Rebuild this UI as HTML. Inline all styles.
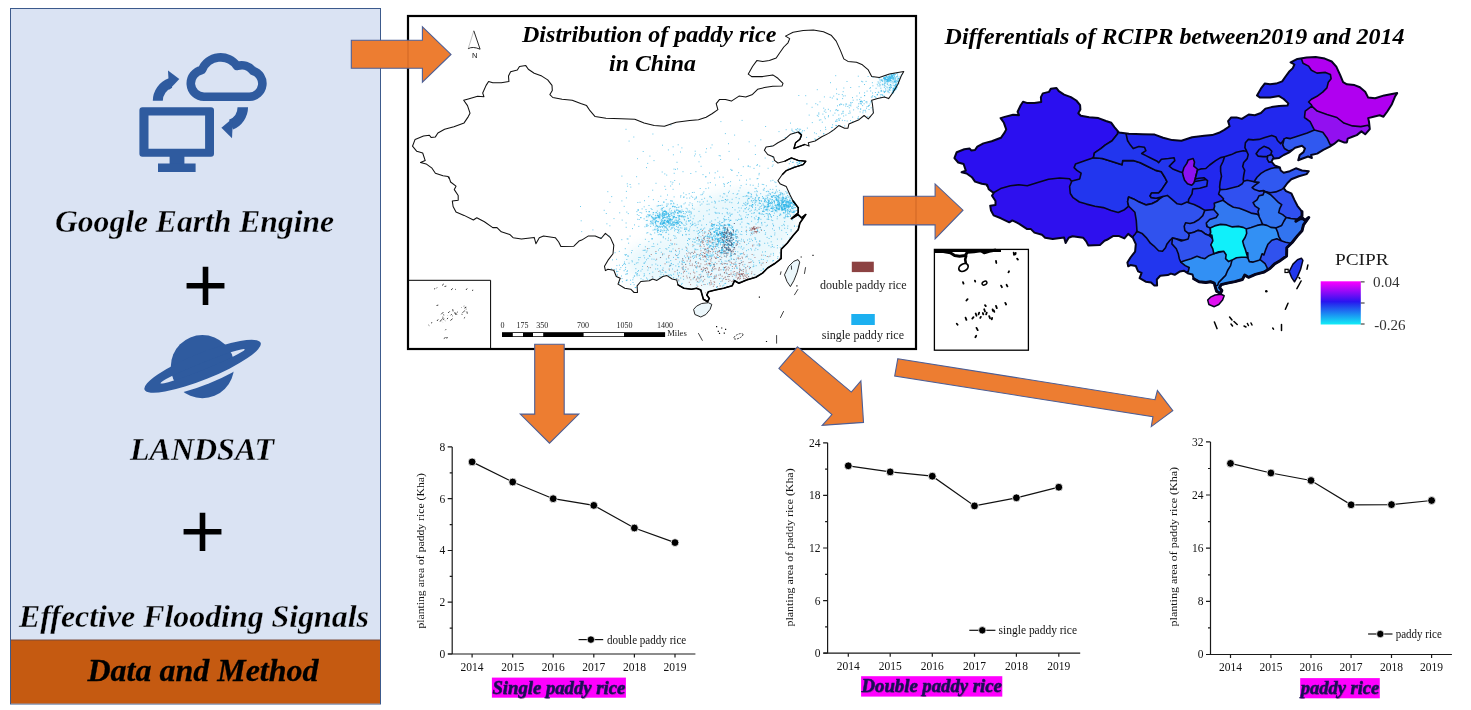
<!DOCTYPE html>
<html lang="en">
<head>
<meta charset="utf-8">
<title>Graphical abstract: paddy rice in China</title>
<style>
html,body{margin:0;padding:0;background:#fff;}
body{width:1471px;height:710px;overflow:hidden;position:relative;font-family:"Liberation Serif","DejaVu Serif",serif;}
svg{position:absolute;left:0;top:0;display:block;}
text{font-family:"Liberation Serif","DejaVu Serif",serif;}
.bi{font-style:italic;font-weight:700;}
.it{font-style:italic;}
.ax{stroke:#1a1a1a;stroke-width:1.2;fill:none;}
.tk{font-size:11.5px;fill:#111;}
.arrow{fill:#ED7D31;stroke:#4d5f96;stroke-width:1.1;stroke-linejoin:miter;}
</style>
</head>
<body>
<svg width="1471" height="710" viewBox="0 0 1471 710">
<!-- left panel -->
<g id="panel">
<rect x="10.5" y="8.5" width="370" height="695.5" fill="#dae3f3" stroke="#3c5a8c" stroke-width="1"/>
<rect x="11" y="640" width="369" height="63.5" fill="#c55a11"/>
<line x1="11" y1="640" x2="380" y2="640" stroke="#7a4a3a" stroke-width="1"/>
<!-- monitor + cloud icon -->
<g fill="#2f5b9f" stroke="none">
<path fill-rule="evenodd" d="M142.4 107.2h68.6a3 3 0 0 1 3 3v43.6a3 3 0 0 1-3 3h-68.6a3 3 0 0 1-3-3v-43.6a3 3 0 0 1 3-3zM148.5 115.6v33.2h56.6v-33.2z"/>
<rect x="169.6" y="156" width="14.8" height="8"/>
<rect x="158" y="163.5" width="37.6" height="8.5"/>
</g>
<path id="cloud" d="M204 96.8 H249.5 A13.3 13.3 0 0 0 253 70.8 A14.5 14.5 0 0 0 237 66 A20 20 0 0 0 202 70 A13.5 13.5 0 0 0 204 96.8 Z" fill="none" stroke="#2f5b9f" stroke-width="8.6" stroke-linejoin="round"/>
<!-- curved arrows -->
<path d="M157.8 100.8 A19.2 19.2 0 0 1 170.5 83" fill="none" stroke="#2f5b9f" stroke-width="10"/>
<path d="M168 70.6 L179.3 79 L169.2 89.8 Z" fill="#2f5b9f"/>
<path d="M242.8 107.2 A19 19 0 0 1 231 124.6" fill="none" stroke="#2f5b9f" stroke-width="10.5"/>
<path d="M233 118 L221.4 127.8 L232 138.3 Z" fill="#2f5b9f"/>
<text x="194.5" y="231.5" text-anchor="middle" class="bi" font-size="32" textLength="279" lengthAdjust="spacingAndGlyphs" fill="#000" stroke="#dae3f3" stroke-width="0.3">Google Earth Engine</text>
<text x="205.5" y="312" text-anchor="middle" font-size="78" style="font-family:'Liberation Sans',sans-serif" fill="#000">+</text>
<!-- planet -->
<defs>
<clipPath id="frontHalf"><rect x="-80" y="6" width="160" height="40"/></clipPath>
<clipPath id="ringHole"><ellipse cx="0" cy="0" rx="45.4" ry="3.4"/></clipPath>
</defs>
<circle cx="202.4" cy="366.6" r="31.6" fill="#2f5b9f"/>
<g transform="translate(202.6 366.3) rotate(-22)">
<ellipse cx="0" cy="0" rx="64.5" ry="18.3" fill="#dae3f3" clip-path="url(#frontHalf)"/>
<path fill-rule="evenodd" fill="#2f5b9f" d="M-62.6 0A62.6 13.2 0 1 0 62.6 0A62.6 13.2 0 1 0 -62.6 0ZM-45.4 0A45.4 3.4 0 1 0 45.4 0A45.4 3.4 0 1 0 -45.4 0Z"/>
<circle cx="0" cy="0.3" r="31.6" fill="#2f5b9f" clip-path="url(#ringHole)"/>
</g>
<text x="202" y="460" text-anchor="middle" class="bi" font-size="32" textLength="144" lengthAdjust="spacingAndGlyphs" fill="#000" stroke="#dae3f3" stroke-width="0.3">LANDSAT</text>
<text x="202.5" y="558" text-anchor="middle" font-size="78" style="font-family:'Liberation Sans',sans-serif" fill="#000">+</text>
<text x="194" y="626.5" text-anchor="middle" class="bi" font-size="32" textLength="350" lengthAdjust="spacingAndGlyphs" fill="#000" stroke="#dae3f3" stroke-width="0.3">Effective Flooding Signals</text>
<text x="203" y="681.2" text-anchor="middle" class="bi" font-size="32" textLength="231" lengthAdjust="spacingAndGlyphs" fill="#000" stroke="#000" stroke-width="0.3">Data and Method</text>
</g>
<!-- map 1 -->
<g id="map1">
<rect x="408" y="16" width="508" height="333" fill="#fff" stroke="#000" stroke-width="2.2"/>
<defs><clipPath id="chinaclip"><path d="M448.9 178.3L448.0 176.6L443.0 175.8L435.4 173.2L432.0 168.2L426.1 163.9L420.5 162.6L425.2 160.6L422.7 153.0L416.8 151.3L412.5 146.2L415.1 139.4L423.5 136.1L429.4 135.2L431.1 137.4L435.4 136.9L437.9 133.0L444.6 129.3L453.9 126.8L464.1 122.9L468.3 116.6L470.0 113.2L467.5 105.6L463.7 100.2L468.3 98.9L477.6 96.3L484.0 96.8L482.7 93.0L486.1 85.4L488.6 81.5L492.8 82.8L501.3 82.8L508.9 81.6L508.5 76.1L510.6 71.8L517.3 70.1L519.5 66.4L525.8 65.6L528.3 69.3L534.2 73.2L541.8 76.1L547.7 79.9L552.0 85.4L552.3 90.4L549.9 94.6L552.8 97.5L562.1 99.2L572.2 100.2L580.7 103.6L586.6 105.6L590.0 110.7L595.1 116.6L606.0 118.3L621.3 118.8L634.8 119.2L644.1 122.9L654.2 125.6L664.4 126.2L676.2 122.2L689.7 120.5L698.5 119.7L706.1 117.2L712.0 113.8L717.9 109.6L716.2 103.7L719.6 99.4L725.5 99.4L731.4 101.1L739.0 96.1L745.8 96.9L752.5 94.4L757.6 89.3L764.4 87.6L772.8 86.2L782.1 85.9L783.0 83.4L777.9 78.3L772.8 74.9L762.7 76.6L751.7 76.6L748.3 74.1L752.5 66.5L756.8 60.6L762.7 61.4L769.4 60.6L776.2 58.0L779.6 53.0L783.8 47.0L788.0 42.8L789.7 38.6L785.5 36.1L793.1 32.2L803.2 30.5L813.4 30.1L823.5 31.8L831.1 35.2L836.2 41.1L840.4 50.4L843.8 58.9L848.0 61.4L856.5 62.3L862.4 64.8L868.3 69.9L871.7 76.6L879.3 77.5L889.4 74.1L897.9 72.4L903.8 71.5L901.3 75.8L897.9 84.2L892.8 92.7L888.6 98.6L884.4 96.9L877.6 98.6L871.7 100.3L872.5 104.5L873.4 113.0L868.3 118.9L864.1 115.5L859.0 119.7L854.8 121.4L848.9 123.9L848.0 128.2L844.6 128.2L838.7 125.6L833.7 129.9L828.6 133.4L821.8 136.8L815.1 141.0L808.3 142.7L809.1 146.1L804.9 144.4L798.2 146.9L793.9 148.6L795.6 142.7L799.9 139.3L801.5 135.1L798.2 132.0L790.6 134.2L784.6 139.3L777.9 142.7L772.8 146.1L766.1 146.9L764.4 150.3L767.7 154.5L773.7 157.0L774.5 160.4L777.9 163.0L784.6 161.3L791.4 157.9L798.2 160.4L805.8 161.3L803.2 164.6L794.8 167.2L786.3 170.6L782.1 174.8L777.9 180.7L780.4 184.1L786.3 186.6L789.7 194.2L793.1 201.0L798.2 207.7L798.2 212.8L791.4 218.7L798.2 214.5L801.5 217.9L805.8 214.5L799.9 223.0L798.2 229.7L793.1 235.6L787.2 243.2L781.3 249.1L781.1 258.7L774.4 263.8L767.6 268.0L762.5 273.1L755.8 277.3L746.5 279.9L738.9 283.2L734.6 280.7L732.1 285.8L723.7 288.3L715.2 290.0L708.4 291.7L706.8 295.1L709.3 298.4L707.6 301.8L703.4 299.3L701.7 293.4L700.8 290.0L696.6 288.3L691.5 289.2L683.9 288.3L678.0 284.9L676.7 279.9L672.1 279.0L667.0 275.6L662.8 276.5L656.9 280.4L652.7 279.0L649.3 280.7L640.8 281.5L637.1 285.8L637.5 292.5L634.1 292.5L630.7 289.2L624.8 288.3L618.0 284.1L620.2 278.2L616.3 276.5L613.8 270.2L607.9 269.2L605.4 270.6L604.5 266.3L607.9 260.4L613.0 253.7L613.8 245.2L610.4 237.6L605.4 233.4L601.1 238.5L595.2 235.9L588.5 235.9L581.7 240.1L579.0 241.1L573.9 246.2L560.9 246.5L558.7 242.0L555.3 237.7L543.5 236.1L539.3 237.7L535.9 243.7L534.2 237.4L521.5 239.1L513.1 237.7L509.7 234.4L501.3 231.8L497.0 227.6L492.8 227.6L484.4 221.7L476.8 217.8L473.4 220.0L464.1 215.4L456.0 212.1L453.1 206.5L452.3 200.9L458.2 200.2L458.2 195.5L454.3 189.6L456.0 186.2L450.6 182.0L448.9 176.9Z"/></clipPath><filter id="blur3" x="-20%" y="-20%" width="140%" height="140%"><feGaussianBlur stdDeviation="6"/></filter></defs>
<g clip-path="url(#chinaclip)"><g filter="url(#blur3)" fill="#bfeaf7" opacity="0.33"><ellipse cx="700" cy="262" rx="75" ry="28"/><ellipse cx="740" cy="225" rx="55" ry="35"/><ellipse cx="668" cy="219" rx="20" ry="14"/><ellipse cx="780" cy="203" rx="18" ry="12"/><ellipse cx="892" cy="82" rx="12" ry="9"/></g></g>
<path d="M715.9 244.4h1.0M717.6 213.0h1.0M678.8 216.9h1.0M787.0 234.5h1.0M751.7 232.0h1.0M638.4 257.5h1.0M757.9 244.0h1.0M637.0 158.7h1.0M681.1 207.2h1.0M746.8 223.3h1.0M758.7 200.6h1.0M747.0 240.0h1.0M760.6 270.5h1.0M695.9 196.9h1.0M711.1 221.0h1.0M764.8 234.4h1.0M705.4 188.6h1.0M701.4 271.4h1.0M685.6 234.3h1.0M753.5 168.4h1.0M732.7 274.6h1.0M619.2 212.8h1.0M724.2 193.9h1.0M757.4 222.6h1.0M649.4 256.5h1.0M766.8 260.9h1.0M736.6 175.6h1.0M763.8 201.8h1.0M705.1 176.9h1.0M676.8 204.8h1.0M649.8 234.1h1.0M625.5 129.3h1.0M749.7 197.0h1.0M668.4 262.1h1.0M790.6 231.0h1.0M743.5 241.5h1.0M758.5 245.8h1.0M643.7 273.7h1.0M782.5 245.1h1.0M621.4 200.9h1.0M719.9 263.7h1.0M760.4 219.3h1.0M747.9 249.7h1.0M736.6 268.5h1.0M693.6 209.2h1.0M787.3 226.0h1.0M681.6 261.0h1.0M654.1 219.9h1.0M721.8 213.7h1.0M686.7 249.0h1.0M749.0 230.4h1.0M738.4 246.9h1.0M720.3 235.5h1.0M761.5 225.0h1.0M772.0 246.5h1.0M706.5 210.8h1.0M729.3 260.1h1.0M711.5 239.7h1.0M831.1 127.5h1.0M668.2 234.3h1.0M751.9 234.1h1.0M706.3 249.9h1.0M745.5 205.2h1.0M699.5 221.2h1.0M717.6 222.6h1.0M580.0 206.5h1.0M726.3 261.2h1.0M636.4 211.6h1.0M711.2 248.7h1.0M790.0 123.1h1.0M767.6 168.3h1.0M739.7 270.4h1.0M721.8 232.3h1.0M773.8 230.4h1.0M725.1 283.3h1.0M787.7 213.8h1.0M780.3 214.9h1.0M737.3 251.8h1.0M742.2 249.3h1.0M646.0 167.6h1.0M763.8 188.4h1.0M673.5 169.1h1.0M730.1 181.7h1.0M681.0 284.3h1.0M784.3 218.2h1.0M621.5 278.5h1.0M724.7 202.1h1.0M752.0 240.6h1.0M689.1 263.7h1.0M736.3 229.7h1.0M603.7 210.3h1.0M628.0 256.1h1.0M747.4 201.8h1.0M729.5 256.6h1.0M734.3 275.4h1.0M726.6 264.5h1.0M693.0 258.4h1.0M626.8 183.8h1.0M622.0 265.6h1.0M662.2 224.5h1.0M719.4 223.9h1.0M697.5 233.9h1.0M759.2 263.0h1.0M719.1 177.1h1.0M699.5 265.8h1.0M639.5 202.3h1.0M730.4 255.6h1.0M739.1 180.2h1.0M644.0 200.7h1.0M780.8 203.5h1.0M680.4 195.7h1.0M645.8 220.5h1.0M665.1 238.8h1.0M600.2 237.5h1.0M694.7 151.2h1.0M769.9 214.5h1.0M607.3 191.7h1.0M746.0 207.6h1.0M772.9 253.4h1.0M766.6 237.4h1.0M754.8 145.8h1.0M713.7 207.2h1.0M679.0 251.2h1.0M760.9 259.3h1.0M680.2 221.6h1.0M746.1 256.4h1.0M728.1 217.6h1.0M674.1 211.4h1.0M779.0 228.9h1.0M683.1 193.0h1.0M765.1 126.5h1.0M764.2 243.3h1.0M726.3 244.9h1.0M623.1 264.3h1.0M747.9 198.3h1.0M652.9 199.7h1.0M746.0 232.0h1.0M708.1 188.0h1.0M664.3 173.9h1.0M682.0 234.9h1.0M611.2 196.6h1.0M726.8 244.9h1.0M690.0 220.3h1.0M755.2 239.3h1.0M765.1 232.9h1.0M712.2 255.0h1.0M732.7 193.6h1.0M695.6 225.0h1.0M724.0 231.0h1.0M730.0 231.7h1.0M722.6 177.2h1.0M753.2 265.0h1.0M753.9 217.8h1.0M754.6 188.3h1.0M625.7 227.3h1.0M678.8 253.1h1.0M670.4 125.1h1.0M709.0 173.0h1.0M688.0 244.8h1.0M757.3 231.7h1.0M728.8 247.7h1.0M721.8 252.7h1.0M713.7 265.6h1.0M762.8 259.5h1.0M798.2 216.8h1.0M711.1 258.2h1.0M783.9 225.3h1.0M665.8 232.1h1.0M749.8 267.9h1.0M773.1 225.9h1.0M776.9 245.5h1.0M741.3 227.1h1.0M716.6 251.1h1.0M672.0 201.1h1.0M730.3 169.4h1.0M706.0 148.7h1.0M692.4 246.6h1.0M761.2 222.9h1.0M717.2 171.2h1.0M719.8 155.9h1.0M772.9 260.5h1.0M625.6 223.0h1.0M764.7 158.0h1.0M629.6 184.5h1.0M695.4 171.7h1.0M731.7 234.5h1.0M764.9 251.7h1.0M657.8 205.8h1.0M671.7 184.1h1.0M725.5 225.2h1.0M757.0 164.7h1.0M661.9 224.1h1.0M719.0 213.2h1.0M726.5 196.1h1.0M768.6 238.5h1.0M725.2 199.5h1.0M720.4 121.6h1.0M676.0 226.4h1.0M647.3 232.6h1.0M738.1 172.7h1.0M716.2 213.1h1.0M755.3 248.3h1.0M728.0 192.7h1.0M722.1 222.5h1.0M770.4 236.2h1.0M690.3 173.5h1.0M709.5 196.9h1.0M668.8 220.6h1.0M703.0 229.0h1.0M758.8 209.3h1.0M790.6 229.6h1.0M688.7 234.4h1.0M747.7 273.6h1.0M772.2 261.0h1.0M758.1 219.1h1.0M758.0 184.0h1.0M717.7 225.7h1.0M794.0 226.0h1.0M685.6 234.8h1.0M762.0 252.0h1.0M744.8 208.7h1.0M767.1 206.8h1.0M691.8 252.3h1.0M692.7 255.8h1.0M727.3 236.8h1.0M730.2 254.9h1.0M694.4 223.3h1.0M647.2 163.4h1.0M794.7 207.5h1.0M726.7 213.1h1.0M723.3 183.6h1.0M731.3 170.4h1.0M726.1 236.7h1.0M755.7 216.2h1.0M680.3 231.1h1.0M703.3 284.5h1.0M772.2 220.6h1.0M704.1 198.3h1.0M678.5 211.6h1.0M746.2 244.6h1.0M691.2 225.5h1.0M701.3 231.4h1.0M738.5 240.5h1.0M716.9 238.9h1.0M732.9 254.3h1.0M625.9 191.4h1.0M729.9 185.8h1.0M672.5 248.9h1.0M694.3 249.1h1.0M771.0 236.6h1.0M757.9 221.0h1.0M652.5 223.9h1.0M755.0 204.9h1.0M724.5 253.5h1.0M681.7 249.3h1.0M738.1 219.3h1.0M779.4 198.8h1.0M729.1 224.6h1.0M632.3 279.8h1.0M770.9 220.0h1.0M754.7 238.9h1.0M647.6 216.9h1.0M673.7 173.3h1.0M662.8 237.7h1.0M701.4 199.4h1.0M759.1 245.8h1.0M674.2 180.5h1.0M746.0 234.4h1.0M658.1 217.3h1.0M700.2 242.5h1.0M723.6 221.7h1.0M710.6 265.0h1.0M776.5 196.2h1.0M734.0 253.5h1.0M725.9 232.5h1.0M647.6 225.6h1.0M692.8 239.1h1.0M667.9 149.9h1.0M732.1 234.9h1.0M699.8 258.8h1.0M715.0 202.0h1.0M756.3 165.4h1.0M692.7 224.2h1.0M776.7 218.8h1.0M747.0 200.1h1.0M694.6 225.7h1.0M739.5 263.9h1.0M662.0 145.2h1.0M763.3 255.2h1.0M741.3 234.6h1.0M781.1 239.0h1.0M774.7 210.8h1.0M729.7 215.3h1.0M702.5 193.2h1.0M695.3 249.3h1.0M732.0 227.5h1.0M720.5 259.7h1.0M757.2 219.6h1.0M766.6 219.2h1.0M755.6 188.6h1.0M789.3 238.1h1.0M748.3 258.9h1.0M740.9 219.3h1.0M644.9 261.9h1.0M731.7 214.1h1.0M749.3 228.0h1.0M767.2 210.9h1.0M728.0 143.7h1.0M706.7 250.7h1.0M723.3 285.2h1.0M712.1 252.9h1.0M741.4 222.1h1.0M736.3 267.9h1.0M698.4 243.9h1.0M672.0 243.9h1.0M761.5 214.5h1.0M759.2 166.1h1.0M771.8 166.3h1.0M691.7 203.9h1.0M707.9 257.6h1.0M734.5 209.9h1.0M730.3 238.9h1.0M727.8 240.9h1.0M715.0 185.0h1.0M735.7 264.3h1.0M670.1 186.0h1.0M728.6 151.4h1.0M715.7 208.4h1.0M754.8 198.3h1.0M681.5 210.0h1.0M727.3 199.7h1.0M730.7 253.5h1.0M686.9 209.0h1.0M690.1 223.7h1.0M758.7 173.4h1.0M755.5 224.0h1.0M629.6 236.1h1.0M774.4 233.0h1.0M756.1 241.8h1.0M778.0 209.4h1.0M770.0 194.1h1.0M754.5 219.0h1.0M667.0 195.0h1.0M740.7 260.7h1.0M753.4 244.9h1.0M727.7 276.4h1.0M708.5 204.1h1.0M778.8 227.4h1.0M714.7 203.1h1.0M715.9 248.7h1.0M749.5 179.0h1.0M753.4 231.8h1.0M675.0 254.4h1.0M714.6 212.3h1.0M692.1 241.7h1.0M702.8 270.4h1.0M694.4 255.8h1.0M706.1 244.0h1.0M724.9 199.6h1.0M639.6 257.5h1.0M635.3 268.7h1.0M698.2 230.5h1.0M653.5 160.6h1.0M685.1 257.7h1.0M757.3 249.6h1.0M605.8 213.5h1.0M779.5 252.9h1.0M778.5 131.6h1.0M739.3 243.7h1.0M711.9 226.4h1.0M778.7 208.2h1.0M744.7 205.0h1.0M738.7 198.7h1.0M642.1 266.5h1.0M746.7 203.8h1.0M741.1 262.6h1.0M676.2 220.8h1.0M759.7 245.0h1.0M711.6 144.9h1.0M730.7 214.4h1.0M744.5 208.8h1.0M673.6 196.9h1.0M697.2 201.7h1.0M666.3 249.2h1.0M658.0 250.1h1.0M674.2 238.4h1.0M689.8 226.8h1.0M738.1 159.1h1.0M696.6 231.2h1.0M704.2 228.0h1.0M770.4 254.1h1.0M779.8 247.4h1.0M714.2 224.3h1.0M715.1 213.1h1.0M720.1 159.5h1.0M711.7 224.1h1.0M676.4 224.1h1.0M758.4 218.8h1.0M844.2 126.0h1.0M718.7 155.6h1.0M592.4 229.9h1.0M758.5 213.5h1.0M760.3 139.8h1.0M776.9 239.1h1.0M731.3 202.7h1.0M765.1 206.6h1.0M742.3 205.6h1.0M606.4 223.8h1.0M741.1 253.7h1.0M681.8 223.7h1.0M763.9 230.5h1.0M680.0 152.0h1.0M780.7 255.9h1.0M696.0 197.9h1.0M778.9 190.4h1.0M630.3 187.1h1.0M692.2 197.3h1.0M742.7 196.5h1.0M670.3 274.7h1.0M697.9 233.4h1.0M729.3 213.1h1.0M747.9 198.7h1.0M628.6 141.1h1.0M660.3 196.2h1.0M728.7 227.1h1.0M760.6 229.6h1.0M686.4 198.1h1.0M613.5 218.6h1.0M756.7 245.1h1.0M723.3 218.4h1.0M781.5 225.6h1.0M770.6 247.1h1.0M741.7 274.6h1.0M698.5 211.4h1.0M685.6 194.7h1.0M731.3 246.6h1.0M694.8 242.2h1.0M682.8 211.5h1.0M693.7 192.4h1.0M696.3 240.6h1.0M758.4 217.4h1.0M753.5 274.4h1.0M651.3 222.6h1.0M743.2 203.3h1.0M713.1 254.9h1.0M747.9 166.0h1.0M728.1 182.5h1.0M726.9 183.3h1.0M733.9 242.7h1.0M731.7 235.6h1.0M683.1 279.3h1.0M694.1 155.9h1.0M719.7 196.0h1.0M674.5 211.5h1.0M746.0 180.1h1.0M722.4 279.2h1.0M767.6 219.2h1.0M737.0 220.4h1.0M727.4 252.8h1.0M724.9 133.6h1.0M728.8 191.2h1.0M765.8 201.8h1.0M672.4 182.3h1.0M652.4 134.0h1.0M626.7 238.9h1.0M694.9 154.0h1.0M648.5 248.5h1.0M687.4 211.1h1.0M748.2 276.5h1.0M737.9 232.0h1.0M712.9 242.4h1.0M745.8 227.0h1.0M702.5 174.6h1.0M700.6 166.3h1.0M759.2 241.1h1.0M741.1 231.5h1.0M787.9 168.2h1.0M661.7 172.0h1.0M699.3 202.0h1.0M750.2 235.1h1.0M731.7 199.3h1.0M705.7 261.2h1.0M772.0 228.8h1.0M712.3 284.0h1.0M697.3 249.6h1.0M793.4 214.9h1.0M775.4 182.6h1.0M785.7 232.6h1.0M642.7 250.4h1.0M680.9 273.7h1.0M692.7 218.7h1.0M745.6 212.4h1.0M744.3 204.0h1.0M767.0 225.2h1.0M741.6 120.4h1.0M793.9 226.2h1.0M632.0 228.6h1.0M755.7 265.7h1.0M722.0 250.8h1.0M709.8 182.6h1.0M698.5 161.8h1.0M694.2 199.3h1.0M685.2 247.1h1.0M748.0 214.7h1.0M739.5 219.5h1.0M741.7 253.6h1.0M782.8 198.9h1.0M647.1 279.2h1.0M736.3 267.0h1.0M639.6 212.5h1.0M731.5 170.2h1.0M701.6 252.5h1.0M682.5 171.7h1.0M758.6 260.7h1.0M740.6 175.5h1.0M773.0 255.1h1.0M760.4 206.5h1.0M746.7 255.0h1.0M699.3 154.9h1.0M748.1 243.3h1.0M730.7 258.8h1.0M697.7 221.9h1.0M713.2 246.7h1.0M773.5 247.3h1.0M723.8 184.6h1.0M756.0 276.1h1.0M759.3 241.1h1.0M719.0 231.4h1.0M651.6 264.9h1.0M707.5 183.0h1.0M688.7 193.7h1.0M655.3 260.2h1.0M778.8 203.0h1.0M648.2 196.7h1.0M695.1 238.0h1.0M710.3 147.9h1.0M742.8 166.7h1.0M691.9 192.5h1.0M700.2 274.3h1.0M776.9 247.9h1.0M747.6 166.2h1.0M701.4 204.0h1.0M676.2 244.3h1.0M689.2 198.0h1.0M672.6 146.8h1.0M739.6 187.9h1.0M581.2 231.6h1.0M792.0 208.2h1.0M645.5 209.6h1.0M651.7 220.8h1.0M761.8 184.4h1.0M616.9 274.3h1.0M657.2 265.3h1.0M718.4 235.2h1.0M721.5 262.9h1.0M787.1 228.3h1.0M655.3 253.2h1.0M704.2 248.9h1.0M792.6 207.9h1.0M700.4 241.5h1.0M758.5 174.8h1.0M660.6 234.4h1.0M682.6 268.2h1.0M772.4 161.5h1.0M685.0 231.3h1.0M702.9 219.1h1.0M755.9 194.2h1.0M755.7 200.8h1.0M700.0 245.4h1.0M698.5 235.9h1.0M722.0 252.9h1.0M709.9 266.1h1.0M659.4 248.5h1.0M701.8 194.6h1.0M723.6 220.1h1.0M706.8 201.1h1.0M754.5 237.6h1.0M712.0 243.0h1.0M655.5 183.3h1.0M672.9 154.8h1.0M754.9 154.5h1.0M641.2 213.0h1.0M624.5 254.6h1.0M689.4 214.9h1.0M733.0 245.7h1.0M710.9 225.6h1.0M699.9 229.4h1.0M665.5 227.4h1.0M623.7 206.4h1.0M660.7 234.8h1.0M676.5 162.3h1.0M689.5 253.0h1.0M751.1 221.3h1.0M679.0 184.0h1.0M677.7 144.8h1.0M666.8 222.1h1.0M741.6 219.0h1.0M714.7 172.8h1.0M688.4 257.1h1.0M636.8 214.6h1.0M744.4 264.4h1.0M668.3 247.6h1.0M751.2 197.0h1.0M756.2 190.9h1.0M686.2 224.3h1.0M580.7 220.8h1.0M675.0 169.4h1.0M706.6 254.0h1.0M707.8 273.1h1.0M666.2 175.1h1.0M782.0 193.6h1.0M774.2 234.9h1.0M765.7 226.0h1.0M677.0 168.9h1.0M672.6 189.3h1.0M705.5 176.7h1.0M714.0 201.2h1.0M699.7 188.5h1.0M732.0 207.5h1.0M736.3 234.5h1.0M748.7 141.8h1.0M700.5 194.8h1.0M772.6 165.0h1.0M690.7 213.8h1.0M711.5 262.7h1.0M705.7 261.7h1.0M649.4 156.1h1.0M756.8 229.7h1.0M756.6 178.8h1.0M782.2 204.8h1.0M784.2 228.3h1.0M621.4 176.1h1.0M792.0 219.8h1.0M708.2 234.2h1.0M706.6 204.3h1.0M735.6 230.5h1.0M737.2 230.2h1.0M722.2 197.2h1.0M726.3 200.6h1.0M705.4 152.2h1.0M727.1 209.2h1.0M670.3 181.8h1.0M728.3 219.4h1.0M739.2 210.9h1.0M696.7 282.0h1.0M710.8 226.1h1.0M681.6 261.8h1.0M653.4 246.5h1.0M678.3 266.4h1.0M690.8 196.2h1.0M657.2 268.9h1.0M688.2 212.1h1.0M700.2 156.8h1.0M693.0 270.1h1.0M692.0 205.6h1.0M626.3 259.5h1.0M670.3 265.4h1.0M636.1 176.7h1.0M745.9 196.0h1.0M773.0 225.3h1.0M665.4 248.6h1.0M690.4 211.7h1.0M681.4 147.9h1.0M716.7 238.1h1.0M637.3 202.5h1.0M766.5 213.5h1.0M665.2 189.4h1.0M693.5 230.6h1.0M745.8 184.3h1.0M735.6 197.6h1.0M627.1 186.2h1.0M780.1 194.5h1.0M657.4 232.4h1.0M743.4 248.0h1.0M683.8 262.2h1.0M675.7 251.4h1.0M739.8 234.2h1.0M783.2 224.3h1.0M737.5 203.5h1.0M688.6 205.0h1.0M718.9 224.1h1.0M772.3 192.3h1.0M690.9 212.9h1.0M740.6 185.6h1.0M729.6 235.6h1.0M740.5 247.9h1.0M745.4 231.2h1.0M625.9 197.9h1.0M746.9 217.6h1.0M684.8 202.9h1.0M726.8 273.9h1.0M642.7 151.5h1.0M703.4 191.8h1.0M699.2 232.1h1.0M732.7 235.5h1.0M728.1 260.4h1.0M738.9 214.9h1.0M749.6 166.8h1.0M633.3 137.0h1.0M758.9 232.3h1.0M734.1 135.1h1.0M709.5 196.3h1.0M652.2 190.2h1.0M768.4 245.7h1.0M728.8 244.5h1.0M696.8 227.7h1.0M732.2 246.1h1.0M726.2 219.6h1.0M722.6 200.5h1.0M768.2 256.8h1.0M772.4 180.3h1.0M682.1 235.2h1.0M757.8 186.2h1.0M708.8 209.8h1.0M733.3 237.8h1.0M714.2 178.0h1.0M724.2 263.9h1.0M754.4 250.1h1.0M756.5 196.0h1.0M761.6 263.4h1.0M711.4 202.2h1.0M685.3 229.4h1.0M728.2 250.5h1.0M767.2 243.1h1.0M745.0 217.1h1.0M723.2 193.7h1.0M739.8 224.1h1.0M747.6 192.5h1.0M732.2 226.8h1.0M763.2 184.6h1.0M753.1 262.4h1.0M762.8 211.0h1.0M703.0 216.0h1.0M721.3 200.6h1.0M750.7 232.8h1.0M680.1 197.0h1.0M724.4 250.5h1.0M664.4 186.3h1.0M757.4 178.5h1.0M736.0 238.4h1.0M723.9 186.3h1.0M726.7 212.4h1.0M748.5 193.1h1.0M790.0 161.3h1.0M720.3 225.3h1.0M782.9 201.9h1.0M760.0 203.5h1.0M707.9 241.8h1.0M679.0 262.0h1.0M796.6 226.3h1.0M667.6 240.3h1.0M692.6 279.0h1.0M662.6 268.0h1.0M791.6 212.4h1.0M662.6 221.1h1.0M719.1 223.2h1.0M768.3 219.5h1.0M740.6 241.1h1.0M754.3 228.2h1.0M718.6 201.2h1.0M670.7 203.6h1.0M722.5 208.1h1.0M757.1 230.5h1.0M665.2 226.8h1.0M724.8 244.1h1.0M705.2 236.5h1.0M638.4 183.8h1.0M729.3 202.2h1.0M686.0 250.5h1.0M765.9 185.8h1.0M626.2 280.2h1.0M738.4 190.9h1.0M733.0 259.3h1.0M770.7 145.9h1.0M772.4 157.4h1.0M730.3 264.8h1.0M694.8 198.2h1.0M709.5 222.2h1.0M670.5 243.4h1.0M759.9 227.7h1.0M740.9 218.3h1.0M702.8 201.8h1.0M710.9 197.6h1.0M609.4 202.3h1.0M699.8 205.1h1.0M671.8 219.8h1.0M773.1 215.5h1.0M702.9 276.6h1.0M793.6 212.6h1.0M722.9 267.3h1.0M699.5 220.5h1.0M750.8 239.2h1.0M714.8 262.4h1.0M720.2 252.6h1.0M770.3 180.9h1.0M657.9 201.5h1.0M662.8 236.7h1.0M683.0 197.2h1.0M714.8 251.3h1.0M741.7 269.8h1.0M656.2 226.1h1.0M679.2 219.6h1.0M673.7 214.5h1.0M654.9 215.8h1.0M660.3 242.1h1.0M662.2 232.2h1.0M670.4 221.5h1.0M676.9 212.8h1.0M679.0 222.0h1.0M649.8 223.8h1.0M674.6 222.6h1.0M687.0 215.7h1.0M674.1 225.0h1.0M657.2 228.6h1.0M650.6 208.6h1.0M674.3 210.3h1.0M666.6 205.8h1.0M668.8 209.9h1.0M672.1 206.7h1.0M673.4 216.9h1.0M668.8 218.5h1.0M669.6 208.4h1.0M637.2 219.3h1.0M656.8 215.4h1.0M673.1 203.1h1.0M658.8 214.1h1.0M655.3 221.6h1.0M666.3 212.4h1.0M656.2 225.5h1.0M660.1 223.7h1.0M673.4 203.8h1.0M655.0 219.0h1.0M672.1 225.2h1.0M677.6 227.3h1.0M663.5 217.3h1.0M677.3 215.6h1.0M680.7 206.3h1.0M675.8 217.6h1.0M644.4 226.8h1.0M671.7 219.2h1.0M655.1 215.3h1.0M686.1 212.4h1.0M626.3 212.1h1.0M653.6 217.9h1.0M663.3 211.7h1.0M657.9 227.4h1.0M650.7 234.7h1.0M661.5 210.3h1.0M677.4 223.5h1.0M655.5 225.0h1.0M645.9 211.6h1.0M681.5 217.0h1.0M652.4 223.1h1.0M679.0 218.8h1.0M646.3 216.2h1.0M673.0 225.1h1.0M690.2 217.0h1.0M662.2 218.7h1.0M682.5 211.5h1.0M683.7 197.0h1.0M677.6 213.6h1.0M673.5 224.5h1.0M653.8 218.3h1.0M670.9 223.7h1.0M656.8 211.1h1.0M644.9 239.3h1.0M665.7 217.2h1.0M650.1 226.4h1.0M661.6 230.5h1.0M678.2 219.2h1.0M676.7 210.1h1.0M664.1 214.4h1.0M652.8 219.1h1.0M666.3 230.5h1.0M627.8 213.6h1.0M657.0 215.3h1.0M673.1 222.2h1.0M668.3 215.2h1.0M673.9 221.9h1.0M645.9 216.9h1.0M651.5 209.5h1.0M669.8 219.5h1.0M669.4 212.0h1.0M665.6 211.7h1.0M672.6 224.5h1.0M689.1 229.1h1.0M658.3 215.3h1.0M656.7 221.4h1.0M691.8 224.7h1.0M641.6 208.9h1.0M652.5 223.1h1.0M668.0 221.4h1.0M689.4 212.4h1.0M657.8 234.7h1.0M672.1 212.8h1.0M643.7 206.8h1.0M638.7 219.5h1.0M668.5 226.9h1.0M666.3 213.5h1.0M659.1 234.2h1.0M646.8 220.4h1.0M668.3 223.9h1.0M663.1 223.0h1.0M677.8 217.8h1.0M662.5 217.5h1.0M656.4 217.3h1.0M664.4 220.7h1.0M684.0 229.5h1.0M662.7 223.8h1.0M671.5 225.1h1.0M668.3 221.1h1.0M662.4 212.7h1.0M678.5 229.4h1.0M675.9 222.5h1.0M671.2 215.4h1.0M646.6 224.3h1.0M670.4 214.6h1.0M656.4 229.2h1.0M646.3 233.1h1.0M675.7 238.0h1.0M659.4 218.8h1.0M661.9 220.2h1.0M665.5 213.0h1.0M680.9 212.7h1.0M661.9 223.4h1.0M661.5 215.5h1.0M672.3 216.1h1.0M653.0 218.2h1.0M665.4 232.6h1.0M654.8 226.8h1.0M658.6 216.2h1.0M664.1 221.2h1.0M678.4 233.0h1.0M660.4 229.6h1.0M679.9 225.5h1.0M658.9 226.2h1.0M666.7 221.8h1.0M664.8 224.3h1.0M681.4 228.0h1.0M665.5 227.0h1.0M685.4 211.5h1.0M685.7 208.3h1.0M674.5 223.8h1.0M685.8 221.2h1.0M662.2 212.6h1.0M653.0 225.1h1.0M665.2 213.3h1.0M674.4 212.9h1.0M662.8 215.3h1.0M687.9 230.7h1.0M666.1 206.4h1.0M671.3 219.6h1.0M672.2 223.5h1.0M664.2 226.4h1.0M678.0 220.7h1.0M663.1 215.2h1.0M676.3 210.2h1.0M666.1 213.0h1.0M651.3 223.8h1.0M667.7 219.3h1.0M678.5 207.0h1.0M667.2 221.3h1.0M678.0 210.3h1.0M676.6 220.8h1.0M684.3 228.1h1.0M674.6 236.2h1.0M668.0 215.6h1.0M663.9 211.5h1.0M667.7 204.0h1.0M667.0 222.4h1.0M679.9 216.2h1.0M684.7 213.8h1.0M666.4 204.0h1.0M658.9 212.7h1.0M685.5 223.1h1.0M655.1 223.2h1.0M673.6 217.2h1.0M668.3 216.6h1.0M661.6 205.2h1.0M666.9 229.0h1.0M684.8 216.8h1.0M659.2 217.3h1.0M678.5 221.7h1.0M661.2 221.8h1.0M665.6 223.0h1.0M663.2 207.5h1.0M668.7 224.9h1.0M655.0 218.2h1.0M678.3 216.1h1.0M660.4 234.8h1.0M677.7 227.0h1.0M656.9 231.7h1.0M648.6 215.0h1.0M676.6 229.4h1.0M657.1 213.8h1.0M670.3 204.0h1.0M675.5 223.4h1.0M662.8 223.2h1.0M677.1 221.4h1.0M674.1 230.8h1.0M662.4 220.3h1.0M661.9 227.0h1.0M663.3 222.7h1.0M669.6 219.5h1.0M688.0 218.3h1.0M684.5 225.4h1.0M683.3 217.7h1.0M678.8 224.9h1.0M660.9 221.1h1.0M666.5 218.7h1.0M683.1 213.4h1.0M648.5 205.5h1.0M662.8 214.0h1.0M668.2 223.4h1.0M688.4 221.4h1.0M673.4 213.3h1.0M674.7 229.5h1.0M683.5 203.9h1.0M678.3 231.2h1.0M677.6 207.5h1.0M664.4 223.5h1.0M672.8 212.7h1.0M657.7 226.4h1.0M652.6 230.1h1.0M668.2 221.3h1.0M652.6 214.4h1.0M676.0 207.7h1.0M691.9 208.2h1.0M653.9 219.3h1.0M673.6 224.6h1.0M663.7 217.4h1.0M665.3 214.6h1.0M638.3 226.4h1.0M670.9 220.2h1.0M660.7 220.9h1.0M667.8 218.4h1.0M680.7 205.8h1.0M670.9 210.8h1.0M664.3 230.5h1.0M655.5 218.2h1.0M661.2 226.3h1.0M656.7 206.1h1.0M673.9 216.3h1.0M664.3 227.3h1.0M657.8 216.1h1.0M669.7 222.2h1.0M662.0 227.0h1.0M693.8 215.9h1.0M689.5 202.8h1.0M684.2 216.4h1.0M669.6 216.4h1.0M660.7 209.2h1.0M663.5 229.0h1.0M681.1 216.3h1.0M661.9 213.6h1.0M654.2 232.9h1.0M675.6 219.9h1.0M662.3 211.1h1.0M683.2 225.0h1.0M657.0 226.6h1.0M655.2 223.9h1.0M656.9 215.8h1.0M673.7 222.3h1.0M679.7 212.6h1.0M686.2 229.3h1.0M667.9 222.6h1.0M659.0 217.8h1.0M652.8 219.7h1.0M670.3 229.3h1.0M678.9 225.3h1.0M663.8 217.3h1.0M664.1 220.7h1.0M645.8 224.9h1.0M649.9 215.0h1.0M668.3 215.1h1.0M687.2 218.2h1.0M686.1 228.0h1.0M662.3 222.1h1.0M683.0 216.4h1.0M669.0 214.7h1.0M668.7 216.3h1.0M669.0 226.7h1.0M684.0 220.0h1.0M670.3 225.6h1.0M664.7 210.9h1.0M680.8 211.8h1.0M678.7 211.6h1.0M689.1 211.0h1.0M677.8 230.5h1.0M656.9 230.4h1.0M658.5 205.5h1.0M676.3 224.4h1.0M665.7 199.6h1.0M667.4 216.7h1.0M663.6 216.8h1.0M647.4 214.6h1.0M688.7 230.9h1.0M663.8 213.5h1.0M672.6 227.2h1.0M676.3 210.0h1.0M669.9 220.1h1.0M684.6 228.2h1.0M674.0 228.3h1.0M663.4 230.8h1.0M663.1 222.0h1.0M678.6 212.0h1.0M659.9 205.5h1.0M669.9 218.6h1.0M664.2 222.8h1.0M643.6 218.8h1.0M669.0 217.0h1.0M677.1 232.5h1.0M662.9 211.8h1.0M661.0 219.7h1.0M674.8 212.4h1.0M679.5 211.1h1.0M677.5 222.3h1.0M673.3 235.6h1.0M665.0 217.7h1.0M673.5 225.6h1.0M652.6 221.1h1.0M659.5 223.8h1.0M683.8 219.4h1.0M666.8 220.4h1.0M634.0 224.9h1.0M674.5 220.3h1.0M663.4 213.4h1.0M665.9 228.3h1.0M666.8 229.3h1.0M638.4 215.5h1.0M726.2 237.6h1.0M719.2 234.1h1.0M724.3 238.8h1.0M730.0 241.9h1.0M713.0 236.1h1.0M727.9 234.8h1.0M722.7 242.5h1.0M717.3 217.8h1.0M720.3 239.9h1.0M720.3 231.4h1.0M730.7 236.8h1.0M713.0 231.8h1.0M722.5 228.5h1.0M709.3 255.4h1.0M731.7 247.2h1.0M732.2 243.2h1.0M702.7 248.4h1.0M731.0 242.3h1.0M700.1 248.8h1.0M732.2 233.7h1.0M720.2 244.8h1.0M718.2 247.6h1.0M719.8 244.0h1.0M719.8 225.1h1.0M709.4 265.6h1.0M721.7 249.4h1.0M730.0 253.0h1.0M724.4 232.8h1.0M719.2 221.3h1.0M717.2 245.9h1.0M698.0 239.7h1.0M727.0 249.6h1.0M710.0 232.3h1.0M700.8 229.1h1.0M724.2 256.1h1.0M707.9 250.0h1.0M723.1 233.7h1.0M740.3 216.0h1.0M718.3 239.9h1.0M739.7 253.7h1.0M741.0 239.2h1.0M728.5 249.9h1.0M724.0 241.1h1.0M717.2 234.4h1.0M707.1 255.0h1.0M714.7 219.8h1.0M721.6 237.7h1.0M720.7 253.9h1.0M718.0 235.7h1.0M711.7 237.8h1.0M714.7 239.8h1.0M749.4 241.4h1.0M710.7 254.9h1.0M727.4 245.1h1.0M726.0 245.2h1.0M725.6 250.3h1.0M728.8 249.8h1.0M714.1 238.0h1.0M711.9 246.4h1.0M727.1 233.9h1.0M724.7 261.0h1.0M731.0 228.2h1.0M718.1 243.6h1.0M718.7 241.4h1.0M730.5 240.9h1.0M708.3 244.3h1.0M718.1 239.0h1.0M713.5 225.9h1.0M706.9 234.9h1.0M708.6 214.2h1.0M730.2 227.8h1.0M711.9 242.7h1.0M695.5 249.8h1.0M711.5 243.8h1.0M714.3 240.7h1.0M720.0 238.0h1.0M701.2 225.1h1.0M718.6 250.4h1.0M713.7 242.7h1.0M720.6 242.2h1.0M728.7 224.9h1.0M721.7 236.4h1.0M716.0 230.5h1.0M711.3 229.0h1.0M708.3 260.0h1.0M735.6 238.1h1.0M726.2 229.4h1.0M691.9 222.0h1.0M720.4 250.6h1.0M718.6 229.2h1.0M716.6 229.3h1.0M705.4 236.0h1.0M715.1 230.9h1.0M710.4 229.8h1.0M721.3 250.2h1.0M717.0 257.6h1.0M703.2 240.4h1.0M707.7 236.6h1.0M720.0 242.9h1.0M730.0 233.1h1.0M706.9 236.3h1.0M721.9 231.9h1.0M727.7 252.8h1.0M705.1 241.2h1.0M728.9 221.1h1.0M721.0 236.0h1.0M705.1 249.5h1.0M721.1 233.8h1.0M723.3 243.6h1.0M726.5 243.1h1.0M723.0 227.7h1.0M714.9 239.1h1.0M692.0 256.7h1.0M715.3 228.7h1.0M701.3 240.2h1.0M719.3 232.9h1.0M714.9 230.2h1.0M711.7 237.1h1.0M712.7 244.0h1.0M717.6 239.2h1.0M723.0 249.1h1.0M724.9 240.0h1.0M717.4 230.9h1.0M715.7 244.0h1.0M721.2 234.6h1.0M706.0 224.6h1.0M722.1 247.0h1.0M722.6 226.0h1.0M716.9 239.9h1.0M710.1 241.0h1.0M717.0 230.7h1.0M706.9 245.1h1.0M722.5 230.2h1.0M709.1 245.8h1.0M724.8 235.3h1.0M734.5 235.5h1.0M708.7 247.6h1.0M717.2 241.0h1.0M719.4 229.2h1.0M707.4 236.3h1.0M732.7 229.2h1.0M732.2 239.9h1.0M708.2 240.3h1.0M724.5 230.1h1.0M698.3 241.1h1.0M708.2 241.9h1.0M700.4 236.8h1.0M711.1 225.0h1.0M716.7 239.5h1.0M713.6 227.7h1.0M721.1 222.7h1.0M724.2 242.3h1.0M735.3 245.7h1.0M722.5 240.3h1.0M719.3 226.4h1.0M733.2 242.6h1.0M716.2 228.0h1.0M733.4 242.7h1.0M707.5 243.9h1.0M737.4 237.8h1.0M722.9 234.4h1.0M712.9 247.4h1.0M748.9 239.0h1.0M717.8 244.9h1.0M716.0 244.4h1.0M727.0 229.1h1.0M708.6 237.4h1.0M727.1 240.4h1.0M731.1 226.0h1.0M723.8 232.6h1.0M720.0 240.8h1.0M709.6 236.0h1.0M707.7 240.3h1.0M710.7 233.7h1.0M721.1 232.3h1.0M730.1 232.4h1.0M727.2 240.5h1.0M709.0 236.1h1.0M710.9 234.8h1.0M716.4 253.9h1.0M714.9 251.7h1.0M723.3 226.6h1.0M696.6 243.9h1.0M699.7 244.3h1.0M729.0 241.4h1.0M717.0 235.8h1.0M721.5 235.4h1.0M713.8 234.8h1.0M730.3 232.6h1.0M722.7 228.0h1.0M712.1 226.0h1.0M717.1 244.0h1.0M722.0 233.7h1.0M724.9 235.0h1.0M722.6 240.4h1.0M724.2 216.4h1.0M706.4 244.7h1.0M718.0 257.5h1.0M716.7 233.2h1.0M733.5 242.8h1.0M737.4 242.4h1.0M717.0 244.3h1.0M711.4 234.1h1.0M713.6 236.1h1.0M726.5 233.8h1.0M722.1 233.7h1.0M727.5 214.0h1.0M717.0 239.5h1.0M708.6 246.8h1.0M721.1 249.1h1.0M728.3 243.6h1.0M717.6 228.5h1.0M716.9 234.0h1.0M721.4 234.0h1.0M748.5 224.1h1.0M730.4 233.9h1.0M716.7 246.1h1.0M719.0 227.5h1.0M723.0 236.3h1.0M699.1 239.7h1.0M708.8 231.5h1.0M723.7 240.6h1.0M716.2 256.9h1.0M723.1 232.7h1.0M721.3 236.9h1.0M697.7 224.3h1.0M705.6 255.9h1.0M717.2 235.6h1.0M713.5 246.5h1.0M719.3 252.8h1.0M726.6 252.3h1.0M717.9 241.3h1.0M714.8 236.5h1.0M702.3 233.0h1.0M709.8 232.3h1.0M730.7 240.3h1.0M730.8 245.4h1.0M727.9 246.7h1.0M713.2 245.0h1.0M715.9 233.4h1.0M730.5 256.8h1.0M709.6 253.1h1.0M727.0 230.6h1.0M721.6 241.2h1.0M722.6 234.9h1.0M706.6 238.3h1.0M727.3 244.8h1.0M725.4 247.6h1.0M709.4 237.6h1.0M722.3 246.7h1.0M720.5 242.5h1.0M720.3 256.2h1.0M698.0 237.8h1.0M742.9 240.0h1.0M701.4 239.2h1.0M705.2 232.1h1.0M721.2 252.9h1.0M723.5 243.8h1.0M728.8 239.7h1.0M710.7 237.2h1.0M785.2 208.4h1.0M791.2 202.5h1.0M785.4 216.4h1.0M765.7 195.9h1.0M772.7 208.4h1.0M793.4 202.0h1.0M788.5 203.7h1.0M784.9 200.9h1.0M781.7 204.0h1.0M792.9 216.9h1.0M764.5 207.1h1.0M782.0 209.6h1.0M792.2 208.5h1.0M789.8 198.5h1.0M765.6 213.6h1.0M794.4 207.9h1.0M758.4 209.2h1.0M772.5 210.7h1.0M775.4 199.7h1.0M767.1 202.7h1.0M791.8 200.1h1.0M764.1 216.4h1.0M776.8 197.0h1.0M766.2 207.2h1.0M782.0 202.4h1.0M779.5 206.9h1.0M790.2 210.3h1.0M779.3 203.1h1.0M769.1 210.2h1.0M776.9 200.2h1.0M782.6 199.0h1.0M772.0 202.3h1.0M787.1 195.5h1.0M763.2 214.5h1.0M778.2 195.1h1.0M781.0 207.5h1.0M765.3 198.9h1.0M784.5 198.7h1.0M789.7 209.6h1.0M786.3 201.5h1.0M781.6 200.3h1.0M780.7 205.8h1.0M779.1 209.6h1.0M785.3 208.8h1.0M788.2 202.6h1.0M777.4 209.8h1.0M788.0 206.9h1.0M774.2 207.7h1.0M789.7 202.9h1.0M788.2 216.6h1.0M763.9 207.5h1.0M770.7 196.1h1.0M779.7 207.2h1.0M782.5 197.2h1.0M768.1 200.8h1.0M782.1 199.2h1.0M767.5 214.2h1.0M773.9 203.1h1.0M776.7 200.6h1.0M782.4 202.3h1.0M788.0 197.1h1.0M767.6 215.3h1.0M781.3 208.5h1.0M793.4 207.2h1.0M782.4 195.0h1.0M766.5 209.7h1.0M788.6 207.3h1.0M765.9 191.6h1.0M771.8 197.1h1.0M783.5 198.1h1.0M776.6 209.0h1.0M785.2 198.8h1.0M790.0 215.2h1.0M770.1 202.6h1.0M771.6 192.7h1.0M788.1 208.1h1.0M791.5 206.5h1.0M762.5 203.8h1.0M775.5 197.1h1.0M771.3 208.5h1.0M779.1 215.5h1.0M786.6 192.9h1.0M790.7 211.3h1.0M782.3 196.9h1.0M781.2 192.9h1.0M769.8 194.1h1.0M792.6 210.9h1.0M778.1 196.1h1.0M781.4 206.2h1.0M767.1 197.2h1.0M781.0 208.1h1.0M782.7 206.6h1.0M769.8 189.4h1.0M785.0 198.6h1.0M780.8 201.8h1.0M786.7 199.5h1.0M787.2 207.7h1.0M792.1 206.4h1.0M764.9 200.3h1.0M787.5 206.7h1.0M775.7 200.0h1.0M775.7 210.8h1.0M785.6 214.4h1.0M786.9 215.1h1.0M786.5 197.1h1.0M793.7 205.3h1.0M778.8 205.0h1.0M771.0 197.0h1.0M773.3 200.9h1.0M768.7 203.4h1.0M785.0 215.9h1.0M790.7 202.7h1.0M785.8 203.8h1.0M776.7 204.4h1.0M767.5 206.6h1.0M779.2 197.6h1.0M778.5 207.3h1.0M775.3 206.8h1.0M787.6 213.2h1.0M771.3 203.3h1.0M787.0 212.9h1.0M784.6 208.5h1.0M767.6 200.6h1.0M779.3 194.6h1.0M788.3 205.6h1.0M779.5 195.7h1.0M781.2 209.6h1.0M789.3 211.3h1.0M790.5 203.7h1.0M788.0 205.0h1.0M768.8 214.1h1.0M785.7 197.8h1.0M785.8 205.7h1.0M791.8 212.6h1.0M752.0 207.3h1.0M763.6 205.7h1.0M785.3 206.1h1.0M771.0 201.2h1.0M783.9 208.4h1.0M776.0 190.0h1.0M792.6 203.2h1.0M780.9 198.1h1.0M789.3 193.3h1.0M783.1 204.7h1.0M785.0 211.8h1.0M781.0 204.6h1.0M779.1 204.4h1.0M791.5 199.2h1.0M790.0 206.3h1.0M767.2 195.2h1.0M767.8 204.8h1.0M784.1 208.3h1.0M790.2 200.7h1.0M792.6 208.9h1.0M786.7 206.9h1.0M769.2 206.2h1.0M771.7 196.9h1.0M778.5 204.8h1.0M781.5 202.0h1.0M772.1 205.1h1.0M774.6 195.6h1.0M782.9 212.7h1.0M778.0 197.7h1.0M795.8 214.2h1.0M779.1 202.7h1.0M784.1 221.6h1.0M783.3 209.9h1.0M786.4 193.1h1.0M771.0 196.6h1.0M786.3 204.6h1.0M785.1 204.4h1.0M783.4 217.8h1.0M784.8 212.8h1.0M788.8 201.7h1.0M783.1 204.9h1.0M782.2 201.2h1.0M789.0 214.0h1.0M788.2 210.1h1.0M795.8 210.5h1.0M764.6 200.2h1.0M768.1 203.9h1.0M767.1 198.0h1.0M785.0 204.9h1.0M774.0 202.6h1.0M781.0 204.4h1.0M781.9 202.7h1.0M777.1 204.8h1.0M778.0 200.7h1.0M777.6 205.3h1.0M794.4 202.9h1.0M779.3 206.1h1.0M779.6 192.4h1.0M784.7 201.7h1.0M776.3 207.8h1.0M782.4 200.6h1.0M760.2 193.7h1.0M782.1 203.3h1.0M786.4 205.3h1.0M777.2 196.4h1.0M771.1 203.2h1.0M770.5 208.5h1.0M768.7 193.3h1.0M780.1 193.4h1.0M781.5 202.5h1.0M773.8 193.4h1.0M763.4 209.2h1.0M792.2 217.0h1.0M767.4 207.4h1.0M781.9 209.1h1.0M776.9 208.3h1.0M791.0 207.6h1.0M782.1 199.2h1.0M782.0 210.2h1.0M789.2 204.6h1.0M773.9 213.1h1.0M785.3 191.6h1.0M785.4 196.9h1.0M796.8 210.9h1.0M776.5 211.8h1.0M773.7 209.5h1.0M787.8 203.2h1.0M767.8 202.3h1.0M759.1 200.6h1.0M763.5 211.3h1.0M772.3 189.4h1.0M787.8 206.2h1.0M776.9 216.7h1.0M789.7 204.4h1.0M775.6 186.3h1.0M786.8 209.8h1.0M776.1 195.5h1.0M781.6 194.0h1.0M782.1 208.6h1.0M784.0 208.5h1.0M769.7 199.3h1.0M769.4 198.7h1.0M780.8 206.1h1.0M783.6 204.4h1.0M778.4 206.5h1.0M790.9 208.6h1.0M779.5 214.2h1.0M784.0 206.5h1.0M778.6 209.8h1.0M778.0 198.0h1.0M781.4 201.3h1.0M790.3 201.7h1.0M783.2 202.7h1.0M785.4 200.2h1.0M778.1 199.7h1.0M788.5 204.2h1.0M786.8 202.0h1.0M774.8 197.3h1.0M778.7 200.8h1.0M784.8 206.1h1.0M791.8 203.4h1.0M774.5 197.6h1.0M782.6 206.2h1.0M771.5 211.3h1.0M793.4 212.1h1.0M781.9 209.7h1.0M748.8 198.6h1.0M748.2 192.3h1.0M775.9 205.5h1.0M750.4 193.7h1.0M754.7 201.0h1.0M783.7 201.4h1.0M761.6 213.4h1.0M769.2 203.6h1.0M729.9 216.0h1.0M768.2 201.6h1.0M758.8 197.5h1.0M747.6 193.3h1.0M766.9 209.1h1.0M762.4 211.1h1.0M767.4 206.0h1.0M747.8 209.6h1.0M776.3 210.0h1.0M777.2 201.3h1.0M746.5 214.8h1.0M752.0 206.9h1.0M757.4 205.2h1.0M756.3 200.8h1.0M735.5 220.0h1.0M762.8 189.9h1.0M747.5 196.2h1.0M749.8 185.0h1.0M767.9 217.9h1.0M756.6 210.8h1.0M768.3 195.2h1.0M776.7 191.8h1.0M752.1 202.2h1.0M777.2 205.9h1.0M758.3 198.7h1.0M761.2 205.3h1.0M770.0 215.9h1.0M770.1 205.1h1.0M757.9 217.5h1.0M762.8 204.9h1.0M784.6 217.3h1.0M767.8 204.1h1.0M751.3 213.4h1.0M753.8 212.5h1.0M749.3 205.8h1.0M765.5 206.1h1.0M763.2 208.0h1.0M744.6 196.3h1.0M758.0 219.1h1.0M758.3 197.7h1.0M751.0 205.3h1.0M776.2 200.6h1.0M767.7 206.5h1.0M755.1 197.6h1.0M757.9 199.3h1.0M767.4 191.2h1.0M775.4 210.9h1.0M767.9 216.7h1.0M768.2 191.6h1.0M760.7 208.5h1.0M750.7 196.2h1.0M765.9 209.0h1.0M754.2 203.1h1.0M753.1 200.6h1.0M759.2 213.4h1.0M738.0 202.3h1.0M782.1 207.5h1.0M762.1 211.5h1.0M746.3 195.6h1.0M737.3 193.6h1.0M763.4 211.6h1.0M754.3 199.7h1.0M765.5 209.8h1.0M763.5 190.1h1.0M752.6 185.3h1.0M763.3 198.4h1.0M751.1 216.7h1.0M778.0 208.8h1.0M763.8 206.3h1.0M752.0 204.6h1.0M786.1 198.2h1.0M751.0 206.3h1.0M772.2 211.5h1.0M746.8 204.0h1.0M756.4 195.4h1.0M761.1 201.3h1.0M772.5 208.4h1.0M749.4 205.6h1.0M755.1 200.1h1.0M753.4 213.3h1.0M754.4 191.7h1.0M749.5 211.3h1.0M789.3 196.8h1.0M755.2 202.4h1.0M740.8 208.1h1.0M759.3 207.2h1.0M790.5 202.9h1.0M770.8 211.5h1.0M751.3 200.4h1.0M781.2 210.6h1.0M762.0 196.5h1.0M772.0 209.1h1.0M789.9 216.5h1.0M770.9 207.1h1.0M760.8 200.7h1.0M764.2 206.9h1.0M768.9 213.5h1.0M764.2 200.8h1.0M771.0 217.1h1.0M748.6 208.3h1.0M767.5 209.2h1.0M766.9 204.3h1.0M758.6 218.1h1.0M783.6 194.1h1.0M725.5 208.4h1.0M750.8 201.0h1.0M738.3 207.8h1.0M759.3 200.8h1.0M772.2 223.9h1.0M780.1 214.1h1.0M754.4 210.1h1.0M759.5 214.0h1.0M767.9 204.7h1.0M767.5 199.4h1.0M770.8 216.7h1.0M755.1 209.3h1.0M737.3 212.3h1.0M771.9 197.1h1.0M783.7 205.9h1.0M736.5 194.4h1.0M771.9 202.9h1.0M775.0 193.0h1.0M758.7 212.6h1.0M750.8 210.3h1.0M755.1 207.7h1.0M764.4 222.4h1.0M743.2 211.1h1.0M777.9 196.3h1.0M761.1 223.0h1.0M774.3 181.9h1.0M756.8 191.7h1.0M764.1 199.4h1.0M752.4 198.5h1.0M764.0 201.4h1.0M747.7 203.2h1.0M765.5 198.3h1.0M775.1 192.1h1.0M765.5 202.0h1.0M781.4 200.0h1.0M751.0 194.6h1.0M787.0 209.8h1.0M745.2 202.4h1.0M714.2 232.4h1.0M707.1 284.0h1.0M700.1 276.3h1.0M696.3 271.7h1.0M707.2 255.6h1.0M711.8 270.9h1.0M698.7 256.0h1.0M665.5 272.3h1.0M728.1 225.7h1.0M731.1 255.5h1.0M746.0 250.7h1.0M685.2 264.2h1.0M643.9 250.3h1.0M660.0 265.6h1.0M687.9 257.4h1.0M678.4 281.0h1.0M752.2 260.9h1.0M745.7 273.2h1.0M649.3 279.8h1.0M686.1 271.4h1.0M635.9 263.1h1.0M707.9 251.6h1.0M707.9 256.0h1.0M781.2 230.3h1.0M668.7 275.2h1.0M679.9 227.8h1.0M708.9 282.6h1.0M717.0 288.9h1.0M648.0 267.9h1.0M744.9 268.0h1.0M706.2 257.0h1.0M737.4 255.8h1.0M704.2 231.8h1.0M702.0 271.8h1.0M625.1 267.4h1.0M770.7 241.8h1.0M618.9 265.2h1.0M681.9 264.3h1.0M657.1 244.2h1.0M657.8 279.3h1.0M698.4 282.4h1.0M684.9 269.6h1.0M731.9 268.6h1.0M688.0 238.7h1.0M702.2 281.8h1.0M678.4 266.8h1.0M639.5 244.5h1.0M689.4 238.6h1.0M687.0 240.5h1.0M710.3 265.3h1.0M735.5 261.3h1.0M711.4 271.5h1.0M715.3 242.1h1.0M724.4 283.6h1.0M621.7 220.1h1.0M700.7 280.0h1.0M719.0 283.7h1.0M678.1 257.7h1.0M712.9 278.8h1.0M719.7 274.0h1.0M683.3 287.5h1.0M716.2 286.8h1.0M616.1 271.7h1.0M677.1 270.1h1.0M683.6 262.5h1.0M706.6 274.1h1.0M672.5 223.2h1.0M673.1 277.6h1.0M670.9 275.6h1.0M687.3 251.3h1.0M696.4 267.1h1.0M733.1 244.4h1.0M731.1 259.2h1.0M673.1 274.2h1.0M651.4 259.1h1.0M692.0 224.2h1.0M720.4 281.6h1.0M736.9 242.4h1.0M655.6 253.5h1.0M666.2 262.4h1.0M707.1 276.1h1.0M750.3 248.6h1.0M730.5 270.7h1.0M659.4 270.7h1.0M745.1 257.0h1.0M668.9 270.3h1.0M706.1 254.4h1.0M672.7 264.5h1.0M722.7 269.6h1.0M715.2 278.3h1.0M725.6 273.0h1.0M694.2 239.4h1.0M771.7 244.7h1.0M625.0 255.2h1.0M679.0 272.7h1.0M699.2 232.4h1.0M688.3 273.2h1.0M740.9 246.4h1.0M621.3 239.7h1.0M711.5 269.4h1.0M705.2 270.7h1.0M687.2 243.5h1.0M715.8 274.9h1.0M656.7 226.0h1.0M668.1 275.2h1.0M699.5 281.1h1.0M694.1 257.3h1.0M708.6 277.4h1.0M740.1 276.0h1.0M696.1 263.7h1.0M642.5 279.8h1.0M665.9 259.0h1.0M734.9 251.5h1.0M681.7 283.4h1.0M765.0 255.6h1.0M738.6 256.2h1.0M713.6 276.7h1.0M763.0 268.9h1.0M709.4 246.9h1.0M762.6 269.1h1.0M648.9 255.6h1.0M777.4 256.6h1.0M677.1 257.6h1.0M680.2 278.0h1.0M751.0 249.9h1.0M715.4 235.6h1.0M753.3 266.4h1.0M672.0 269.0h1.0M712.9 264.5h1.0M753.3 255.1h1.0M631.6 250.5h1.0M668.4 258.2h1.0M713.7 264.9h1.0M702.8 259.7h1.0M697.1 276.7h1.0M726.1 253.9h1.0M696.0 254.3h1.0M693.8 242.2h1.0M733.4 280.1h1.0M695.7 255.7h1.0M684.0 256.0h1.0M659.2 278.4h1.0M721.2 239.7h1.0M632.8 277.8h1.0M682.7 269.5h1.0M699.9 257.9h1.0M695.0 262.6h1.0M743.6 266.3h1.0M698.9 258.5h1.0M677.8 254.7h1.0M739.0 272.3h1.0M707.3 265.0h1.0M661.6 272.5h1.0M688.9 239.5h1.0M707.5 277.0h1.0M707.0 259.6h1.0M716.1 287.5h1.0M689.2 277.2h1.0M735.9 259.3h1.0M705.9 254.7h1.0M721.1 261.4h1.0M740.1 254.2h1.0M759.1 262.4h1.0M670.6 251.7h1.0M723.2 252.6h1.0M718.1 242.4h1.0M699.2 254.9h1.0M636.6 275.7h1.0M777.1 258.4h1.0M666.4 261.9h1.0M709.4 276.5h1.0M659.9 271.9h1.0M696.3 285.1h1.0M644.1 257.8h1.0M682.4 262.3h1.0M725.3 256.7h1.0M729.4 286.4h1.0M733.8 264.3h1.0M671.0 263.4h1.0M723.3 270.2h1.0M720.4 278.3h1.0M669.1 251.2h1.0M750.4 259.3h1.0M670.8 251.2h1.0M733.9 247.6h1.0M704.5 269.0h1.0M677.6 264.0h1.0M682.5 267.6h1.0M727.0 245.1h1.0M667.9 230.3h1.0M752.6 266.7h1.0M699.5 267.0h1.0M735.2 273.8h1.0M729.8 265.0h1.0M695.8 267.0h1.0M634.8 287.6h1.0M644.8 250.1h1.0M723.5 269.0h1.0M669.2 266.4h1.0M734.9 264.2h1.0M695.8 261.6h1.0M747.8 223.6h1.0M697.5 278.1h1.0M748.9 267.0h1.0M688.2 259.2h1.0M693.4 245.5h1.0M699.4 277.9h1.0M710.9 276.6h1.0M646.6 250.9h1.0M722.2 286.0h1.0M659.9 257.6h1.0M712.1 268.6h1.0M677.3 274.2h1.0M701.1 254.6h1.0M711.7 256.0h1.0M733.3 279.3h1.0M675.9 278.6h1.0M702.4 255.3h1.0M668.0 238.1h1.0M660.4 274.2h1.0M670.2 260.6h1.0M644.0 275.2h1.0M659.5 276.6h1.0M621.0 276.0h1.0M640.5 278.7h1.0M632.5 282.5h1.0M673.0 257.4h1.0M626.4 273.9h1.0M652.3 272.2h1.0M660.8 252.3h1.0M634.1 276.0h1.0M638.1 246.2h1.0M624.9 269.4h1.0M627.1 256.0h1.0M634.2 264.4h1.0M641.7 269.3h1.0M643.4 276.1h1.0M609.4 225.8h1.0M630.0 280.2h1.0M631.5 260.7h1.0M626.8 273.7h1.0M696.1 268.0h1.0M623.6 270.7h1.0M625.9 254.6h1.0M647.5 258.4h1.0M682.0 258.9h1.0M626.4 271.4h1.0M627.0 270.8h1.0M624.8 248.7h1.0M678.0 276.7h1.0M643.8 263.0h1.0M636.4 274.5h1.0M638.0 270.5h1.0M663.5 254.0h1.0M637.4 262.7h1.0M647.4 270.1h1.0M661.9 269.7h1.0M676.9 255.7h1.0M662.0 255.0h1.0M675.3 265.9h1.0M670.6 263.8h1.0M617.4 271.5h1.0M619.0 282.8h1.0M624.9 264.4h1.0M634.9 287.5h1.0M614.0 269.6h1.0M631.8 261.8h1.0M620.3 267.6h1.0M644.9 246.8h1.0M645.8 252.2h1.0M615.8 269.0h1.0M633.6 284.7h1.0M628.1 243.2h1.0M626.6 280.0h1.0M638.2 259.8h1.0M618.8 251.4h1.0M614.6 252.7h1.0M638.7 275.3h1.0M635.9 273.0h1.0M669.6 265.7h1.0M608.7 235.7h1.0M646.0 259.8h1.0M633.8 276.1h1.0M651.6 246.5h1.0M616.1 271.1h1.0M636.4 287.2h1.0M627.5 239.0h1.0M669.3 245.5h1.0M646.0 278.0h1.0M653.5 259.2h1.0M671.4 244.7h1.0M625.3 274.3h1.0M643.4 255.6h1.0M616.6 275.6h1.0M624.1 263.5h1.0M664.7 271.9h1.0M637.3 271.5h1.0M628.5 263.2h1.0M677.1 272.9h1.0M624.0 262.0h1.0M655.3 264.1h1.0M612.0 259.9h1.0M637.0 273.7h1.0M616.1 259.3h1.0M652.4 277.2h1.0M630.2 284.4h1.0M635.0 272.9h1.0M653.1 243.8h1.0M663.0 274.9h1.0M648.4 241.6h1.0M616.4 265.6h1.0M643.6 263.3h1.0M640.4 271.0h1.0M649.1 273.6h1.0M621.9 281.7h1.0M619.4 269.4h1.0M631.0 252.7h1.0M655.1 269.0h1.0M610.9 268.8h1.0M625.8 280.6h1.0M821.8 122.2h1.0M859.9 101.4h1.0M860.0 101.7h1.0M818.3 112.9h1.0M862.6 111.0h1.0M866.6 91.1h1.0M825.4 112.3h1.0M834.4 113.1h1.0M838.2 118.7h1.0M836.6 121.2h1.0M839.5 125.5h1.0M823.8 111.2h1.0M811.8 122.6h1.0M835.4 125.4h1.0M815.8 133.7h1.0M872.4 85.8h1.0M839.7 118.3h1.0M844.3 120.6h1.0M836.0 109.7h1.0M847.3 106.5h1.0M841.8 94.6h1.0M885.3 90.2h1.0M824.8 109.8h1.0M848.6 105.2h1.0M852.7 100.2h1.0M866.0 108.2h1.0M857.9 116.8h1.0M838.8 120.2h1.0M857.8 76.2h1.0M865.4 102.0h1.0M841.2 104.4h1.0M862.2 81.8h1.0M837.5 110.3h1.0M823.0 133.8h1.0M848.8 107.8h1.0M827.9 109.3h1.0M836.8 99.6h1.0M845.3 104.1h1.0M829.9 110.9h1.0M859.8 101.3h1.0M816.8 89.7h1.0M828.0 115.7h1.0M856.4 96.0h1.0M867.3 116.4h1.0M824.8 118.7h1.0M877.8 92.1h1.0M823.4 133.6h1.0M838.6 120.1h1.0M839.2 105.2h1.0M846.5 81.5h1.0M811.6 107.3h1.0M856.5 107.3h1.0M889.0 87.5h1.0M831.8 98.0h1.0M839.3 104.5h1.0M837.2 110.7h1.0M820.0 130.7h1.0M838.3 115.0h1.0M818.3 136.6h1.0M849.7 112.9h1.0M841.1 113.9h1.0M852.3 121.6h1.0M815.3 103.7h1.0M860.2 108.9h1.0M842.8 96.0h1.0M852.0 97.6h1.0M822.4 114.1h1.0M849.3 111.1h1.0M852.1 117.1h1.0M818.9 120.1h1.0M844.7 95.8h1.0M819.5 101.8h1.0M818.3 114.1h1.0M868.7 105.4h1.0M832.6 115.2h1.0M840.3 103.9h1.0M815.1 139.6h1.0M861.6 101.7h1.0M860.5 103.7h1.0M808.7 115.1h1.0M870.7 107.8h1.0M849.7 105.2h1.0M867.6 76.5h1.0M843.1 116.0h1.0M853.1 109.9h1.0M866.6 106.6h1.0M859.6 111.9h1.0M842.1 98.6h1.0M848.4 113.4h1.0M842.5 113.4h1.0M859.2 99.4h1.0M806.9 128.1h1.0M857.9 118.7h1.0M823.2 108.2h1.0M835.2 110.1h1.0M832.1 124.8h1.0M851.7 102.5h1.0M878.2 83.1h1.0M884.3 80.0h1.0M835.2 121.4h1.0M871.8 96.9h1.0M838.4 94.4h1.0M835.6 121.0h1.0M816.8 115.4h1.0M862.4 112.8h1.0M860.9 101.0h1.0M817.2 104.8h1.0M827.9 116.8h1.0M825.2 129.4h1.0M869.9 87.5h1.0M866.3 101.6h1.0M846.1 104.1h1.0M823.9 96.9h1.0M865.6 81.4h1.0M850.2 102.6h1.0M836.6 98.9h1.0M830.0 82.7h1.0M843.3 88.0h1.0M835.9 125.5h1.0M849.6 123.4h1.0M882.9 91.1h1.0M850.0 120.6h1.0M857.9 106.3h1.0M825.0 127.3h1.0M861.7 102.3h1.0M879.7 85.0h1.0M877.2 98.5h1.0M836.0 89.1h1.0M814.4 138.9h1.0M814.0 132.8h1.0M820.3 119.8h1.0M861.1 81.3h1.0M831.9 127.3h1.0M856.6 99.9h1.0M869.6 116.9h1.0M805.2 95.7h1.0M817.8 116.3h1.0M864.0 84.5h1.0M837.0 105.8h1.0M843.1 104.9h1.0M806.4 103.9h1.0M836.4 119.6h1.0M857.6 108.7h1.0M872.9 112.3h1.0M869.5 104.0h1.0M833.2 96.1h1.0M824.1 117.0h1.0M860.1 109.2h1.0M857.3 118.4h1.0M798.3 95.5h1.0M842.7 91.7h1.0M846.7 121.0h1.0M841.9 120.3h1.0M831.6 130.9h1.0M836.2 93.7h1.0M845.4 115.1h1.0M850.2 87.5h1.0M835.2 75.7h1.0M829.7 97.3h1.0M859.0 93.0h1.0M895.2 81.9h1.0M881.9 84.2h1.0M885.7 76.4h1.0M885.6 75.5h1.0M895.3 80.3h1.0M893.6 80.3h1.0M893.7 88.8h1.0M880.9 80.3h1.0M887.5 90.3h1.0M884.2 81.3h1.0M883.8 92.4h1.0M871.9 82.7h1.0M883.9 87.3h1.0M895.9 80.9h1.0M890.5 85.6h1.0M888.0 81.8h1.0M895.4 77.3h1.0M894.9 79.2h1.0M887.7 91.8h1.0M886.4 79.7h1.0M892.9 90.8h1.0M898.1 78.7h1.0M893.8 76.0h1.0M894.4 74.2h1.0M895.1 78.2h1.0M896.9 79.1h1.0M884.7 86.1h1.0M879.3 79.9h1.0M891.0 87.5h1.0M892.6 77.2h1.0M889.7 87.1h1.0M901.4 74.5h1.0M884.3 82.8h1.0M881.9 84.8h1.0M897.5 77.9h1.0M892.8 85.3h1.0M877.6 81.9h1.0M880.3 91.0h1.0M899.8 77.7h1.0M888.9 76.9h1.0M885.6 81.5h1.0M883.5 84.6h1.0M897.8 81.2h1.0M899.5 76.8h1.0M895.0 81.9h1.0M881.1 91.3h1.0M883.9 83.4h1.0M892.5 79.0h1.0M886.4 87.1h1.0M890.2 84.5h1.0M884.5 78.2h1.0M887.4 87.9h1.0M883.5 77.3h1.0M886.9 84.4h1.0M888.8 89.5h1.0M869.4 88.5h1.0M887.3 80.2h1.0M898.0 83.4h1.0M884.1 92.1h1.0M898.1 78.7h1.0M894.8 74.6h1.0M882.2 80.0h1.0M896.2 82.7h1.0M878.3 92.7h1.0M896.2 76.6h1.0M889.4 77.9h1.0M887.9 78.0h1.0M886.8 83.7h1.0M895.2 86.1h1.0M897.0 75.0h1.0M891.2 75.7h1.0M897.2 73.2h1.0M887.9 76.2h1.0M887.6 80.3h1.0M880.4 80.0h1.0M891.5 76.2h1.0M888.7 92.7h1.0M884.1 91.6h1.0M894.3 81.9h1.0M894.6 80.8h1.0M884.4 80.1h1.0M894.0 76.0h1.0M878.6 78.3h1.0M890.5 82.1h1.0M893.8 77.1h1.0M892.7 82.0h1.0M892.2 92.3h1.0M879.3 86.0h1.0M890.0 77.8h1.0M881.1 79.9h1.0M892.2 77.4h1.0M889.9 88.0h1.0M895.4 84.5h1.0M892.9 90.4h1.0M886.6 80.0h1.0M890.4 86.2h1.0M875.6 88.3h1.0M892.5 83.1h1.0M898.8 78.7h1.0M894.1 85.4h1.0M889.9 84.6h1.0M895.9 86.8h1.0M884.4 78.4h1.0M889.3 90.0h1.0M881.8 95.0h1.0M896.0 73.3h1.0M885.0 83.0h1.0M889.8 80.0h1.0M893.8 90.6h1.0M897.2 76.4h1.0M879.7 82.1h1.0M870.2 91.0h1.0M896.8 84.7h1.0M887.5 81.2h1.0M894.1 79.0h1.0M893.9 74.1h1.0M874.9 92.5h1.0M880.0 97.2h1.0M897.7 79.0h1.0M872.5 77.3h1.0M889.7 80.1h1.0M897.0 81.2h1.0M887.4 91.7h1.0M880.3 88.2h1.0M880.9 90.4h1.0M876.8 84.3h1.0M889.4 90.3h1.0M888.8 75.4h1.0M896.6 81.2h1.0M891.7 81.2h1.0M850.4 105.9h1.0M842.4 111.9h1.0M892.7 88.2h1.0M864.0 95.5h1.0M872.2 95.7h1.0M865.2 111.9h1.0M872.0 93.0h1.0M885.1 91.4h1.0M875.6 97.9h1.0M883.9 96.5h1.0M868.4 105.6h1.0M866.4 102.9h1.0M883.9 85.3h1.0M858.2 103.8h1.0M868.5 109.5h1.0M885.1 88.8h1.0M870.9 97.1h1.0M889.4 88.3h1.0M876.7 95.1h1.0M871.0 100.9h1.0M870.4 102.1h1.0M860.8 104.0h1.0M860.5 97.4h1.0M861.3 101.4h1.0M864.1 92.8h1.0M864.2 95.7h1.0M862.1 105.6h1.0M882.2 95.2h1.0M863.7 100.5h1.0M879.2 84.1h1.0M877.5 85.9h1.0M863.6 103.8h1.0M872.4 109.8h1.0M875.0 97.0h1.0M879.9 94.8h1.0M864.9 110.3h1.0M867.9 106.3h1.0M850.5 103.9h1.0M883.5 95.9h1.0M858.6 86.7h1.0M874.0 96.6h1.0M842.7 111.2h1.0M870.6 101.2h1.0M877.0 94.4h1.0M859.7 103.2h1.0M845.2 106.1h1.0M888.4 85.3h1.0M881.2 94.7h1.0M876.8 94.5h1.0M863.5 110.3h1.0M799.0 163.5h1.0M801.4 164.3h1.0M798.8 161.5h1.0M793.1 166.8h1.0M796.9 164.3h1.0M788.8 163.7h1.0M802.3 161.6h1.0M792.8 162.2h1.0M798.0 164.0h1.0M803.8 163.0h1.0M796.4 162.7h1.0M801.8 165.0h1.0M799.5 162.9h1.0M800.2 165.4h1.0M799.5 165.6h1.0M797.3 166.2h1.0M790.4 159.1h1.0M799.3 163.2h1.0M798.9 161.6h1.0M800.7 162.6h1.0M791.4 167.6h1.0M798.1 161.6h1.0M794.0 166.0h1.0M796.8 162.3h1.0M791.9 162.4h1.0M801.1 133.9h1.0M791.5 130.4h1.0M800.0 132.8h1.0M791.4 129.1h1.0M795.8 129.8h1.0M801.4 132.1h1.0M794.2 132.5h1.0M798.6 131.6h1.0M799.6 133.3h1.0M792.4 131.4h1.0M796.7 131.1h1.0M791.9 133.5h1.0M784.7 137.5h1.0M803.8 130.7h1.0M795.4 129.4h1.0M798.9 130.1h1.0M793.6 132.1h1.0M806.1 137.4h1.0M802.0 130.8h1.0M800.9 137.1h1.0M798.6 129.1h1.0M800.1 129.3h1.0M800.1 133.7h1.0M797.0 128.7h1.0M785.7 129.7h1.0" stroke="#2fb4e6" stroke-width="1.0" opacity="0.7" fill="none"/>
<path d="M668.9 219.9h1.4M648.5 215.5h1.4M679.2 211.3h1.4M655.5 212.6h1.4M660.2 224.3h1.4M672.3 206.4h1.4M681.4 216.0h1.4M659.8 231.2h1.4M665.1 211.7h1.4M659.3 215.1h1.4M655.3 217.8h1.4M675.3 222.4h1.4M651.4 238.7h1.4M655.5 220.8h1.4M666.3 225.1h1.4M662.5 223.1h1.4M688.2 220.6h1.4M654.6 222.2h1.4M657.5 217.5h1.4M668.0 222.3h1.4M663.0 225.7h1.4M664.0 211.2h1.4M675.3 217.6h1.4M678.8 215.6h1.4M672.0 222.1h1.4M637.5 210.0h1.4M654.2 229.5h1.4M646.1 226.1h1.4M677.5 223.3h1.4M673.1 216.7h1.4M665.9 221.5h1.4M670.4 224.8h1.4M663.8 215.3h1.4M660.1 222.8h1.4M648.5 211.6h1.4M661.7 216.3h1.4M663.1 202.1h1.4M662.4 218.3h1.4M674.2 206.7h1.4M662.8 223.2h1.4M671.2 228.0h1.4M677.1 212.9h1.4M672.7 217.7h1.4M657.5 230.3h1.4M659.3 214.3h1.4M661.7 214.3h1.4M676.6 222.6h1.4M680.8 222.8h1.4M659.5 227.0h1.4M659.1 216.9h1.4M664.2 220.3h1.4M678.6 215.9h1.4M669.7 219.8h1.4M652.7 212.6h1.4M663.7 222.7h1.4M669.4 223.2h1.4M666.5 217.0h1.4M670.5 213.2h1.4M651.8 217.8h1.4M650.9 216.5h1.4M658.1 216.3h1.4M665.5 214.6h1.4M661.5 208.5h1.4M667.5 214.1h1.4M670.3 200.9h1.4M657.5 221.6h1.4M640.1 217.6h1.4M667.0 220.7h1.4M650.1 221.5h1.4M667.6 213.4h1.4M723.6 234.9h1.4M715.9 234.2h1.4M709.4 229.1h1.4M720.3 234.2h1.4M721.3 247.8h1.4M723.3 236.8h1.4M712.0 228.7h1.4M723.9 230.3h1.4M724.3 228.7h1.4M722.0 236.4h1.4M728.7 234.0h1.4M718.1 238.9h1.4M721.4 250.0h1.4M719.0 232.9h1.4M718.5 240.6h1.4M722.8 242.3h1.4M710.3 256.1h1.4M735.2 236.8h1.4M711.7 238.2h1.4M724.2 219.8h1.4M721.1 225.6h1.4M724.5 247.6h1.4M729.0 225.4h1.4M731.6 244.0h1.4M718.2 240.9h1.4M732.7 234.4h1.4M720.9 232.7h1.4M729.9 220.4h1.4M731.9 229.6h1.4M728.1 224.5h1.4M713.8 232.4h1.4M727.4 224.5h1.4M725.6 232.1h1.4M730.6 234.6h1.4M724.7 235.7h1.4M734.8 234.2h1.4M720.8 252.3h1.4M721.6 242.3h1.4M715.3 238.5h1.4M703.5 237.8h1.4M716.0 225.4h1.4M710.1 245.8h1.4M724.3 225.3h1.4M735.0 231.6h1.4M718.2 238.9h1.4M712.2 224.6h1.4M715.3 246.1h1.4M728.3 224.8h1.4M730.3 237.3h1.4M724.9 237.4h1.4M724.2 229.3h1.4M714.0 231.6h1.4M718.2 241.8h1.4M711.6 249.3h1.4M716.1 232.5h1.4M726.4 240.3h1.4M718.4 228.8h1.4M713.3 224.7h1.4M729.8 245.3h1.4M735.4 240.8h1.4M778.2 203.6h1.4M783.2 212.9h1.4M780.8 208.8h1.4M783.7 200.5h1.4M785.4 207.3h1.4M775.9 207.2h1.4M775.9 199.6h1.4M785.2 202.8h1.4M773.2 195.9h1.4M783.2 205.2h1.4M778.4 204.9h1.4M767.7 206.0h1.4M787.2 205.4h1.4M776.9 204.4h1.4M784.3 209.3h1.4M785.8 205.3h1.4M775.8 208.3h1.4M789.4 205.5h1.4M782.5 197.6h1.4M786.0 202.1h1.4M783.4 207.1h1.4M787.6 201.4h1.4M789.8 206.0h1.4M792.9 201.4h1.4M782.5 202.0h1.4M774.6 205.3h1.4M787.1 211.1h1.4M779.8 205.9h1.4M794.4 203.4h1.4M783.6 204.7h1.4M776.1 199.1h1.4M794.1 204.9h1.4M782.3 197.8h1.4M784.2 209.8h1.4M771.5 199.6h1.4M794.1 211.1h1.4M789.0 200.3h1.4M788.2 202.2h1.4M785.0 210.7h1.4M786.4 202.8h1.4M783.6 205.3h1.4M777.9 205.0h1.4M789.0 211.8h1.4M762.5 198.1h1.4M770.7 208.4h1.4M784.2 209.7h1.4M758.7 203.1h1.4M752.0 204.8h1.4M777.9 201.6h1.4M786.4 201.1h1.4M794.0 204.0h1.4M786.8 216.6h1.4M778.5 208.6h1.4M774.8 210.2h1.4M792.6 204.7h1.4M792.8 212.0h1.4M782.5 209.5h1.4M768.4 201.0h1.4M787.8 206.8h1.4M786.2 206.2h1.4M769.9 203.1h1.4M785.6 202.9h1.4M783.6 207.0h1.4M773.6 201.2h1.4M765.4 209.7h1.4M772.6 195.6h1.4M790.6 202.9h1.4M792.6 202.2h1.4M784.5 204.6h1.4M781.0 208.0h1.4M772.2 207.0h1.4M776.2 199.1h1.4M788.6 206.5h1.4M775.7 198.4h1.4M789.4 203.2h1.4M777.3 202.6h1.4M780.3 200.4h1.4M783.8 208.8h1.4M768.1 202.9h1.4M797.7 207.7h1.4M890.9 76.8h1.4M887.9 78.6h1.4M890.1 77.1h1.4M889.6 78.3h1.4M892.9 77.9h1.4M888.4 79.4h1.4M891.6 75.8h1.4M886.6 77.3h1.4M881.8 81.1h1.4M891.1 78.1h1.4M897.8 81.1h1.4M893.9 81.8h1.4M890.6 74.6h1.4M892.5 79.0h1.4M884.5 78.1h1.4M890.2 80.4h1.4M888.5 76.7h1.4M890.2 76.2h1.4M887.8 79.8h1.4M883.8 78.9h1.4M884.4 77.8h1.4M890.1 77.9h1.4M890.7 78.2h1.4M887.4 79.2h1.4M887.3 78.3h1.4M891.0 76.6h1.4M891.4 75.3h1.4M886.5 81.8h1.4M889.0 81.1h1.4M889.4 80.0h1.4M890.4 74.0h1.4M889.5 77.8h1.4M888.4 79.2h1.4M884.2 77.7h1.4M891.8 76.3h1.4M883.0 78.2h1.4M886.6 77.4h1.4M885.2 79.2h1.4M884.5 79.3h1.4M886.1 79.9h1.4M885.4 79.1h1.4M889.3 77.8h1.4M892.8 78.4h1.4M885.4 79.7h1.4M885.6 76.7h1.4M888.0 78.4h1.4M893.0 73.8h1.4M887.2 80.7h1.4M887.5 78.8h1.4M892.5 75.0h1.4M895.6 84.9h1.4M895.6 87.1h1.4M894.8 88.3h1.4M895.0 88.8h1.4M892.7 92.0h1.4M895.5 87.9h1.4M891.9 92.5h1.4M897.8 83.6h1.4M892.0 93.1h1.4M893.3 89.3h1.4M894.9 89.2h1.4M895.3 84.1h1.4M895.7 87.7h1.4M894.6 86.4h1.4M891.7 92.7h1.4M894.5 86.8h1.4M894.2 89.7h1.4M893.2 88.4h1.4M895.3 85.1h1.4M894.6 89.0h1.4M895.8 84.9h1.4M892.6 91.3h1.4M892.9 89.6h1.4M896.1 87.1h1.4M894.8 89.0h1.4M894.1 88.8h1.4M895.3 86.2h1.4M892.8 89.0h1.4M892.5 90.4h1.4M895.9 87.0h1.4" stroke="#22b2ea" stroke-width="1.4" opacity="0.75" fill="none"/>
<path d="M724.1 236.3h0.9M725.5 266.7h0.9M715.1 258.0h0.9M704.3 279.4h0.9M724.1 267.6h0.9M702.5 270.9h0.9M745.4 267.7h0.9M705.6 251.8h0.9M717.5 255.4h0.9M678.3 280.0h0.9M699.1 240.0h0.9M712.3 249.8h0.9M686.8 277.9h0.9M725.4 270.9h0.9M710.0 274.7h0.9M754.4 274.7h0.9M710.8 248.8h0.9M731.6 250.7h0.9M719.7 285.9h0.9M698.8 274.8h0.9M674.3 244.0h0.9M724.6 277.7h0.9M705.9 267.7h0.9M704.6 284.5h0.9M658.4 271.5h0.9M682.3 258.7h0.9M675.8 255.5h0.9M714.4 268.4h0.9M760.8 265.0h0.9M723.9 272.9h0.9M721.6 288.2h0.9M718.6 270.1h0.9M712.1 268.1h0.9M713.6 281.7h0.9M715.5 268.9h0.9M713.8 278.4h0.9M702.9 280.9h0.9M700.3 277.6h0.9M764.2 271.2h0.9M712.8 251.7h0.9M733.9 268.2h0.9M738.3 258.9h0.9M725.3 263.5h0.9M681.6 267.9h0.9M731.9 276.3h0.9M686.3 253.8h0.9M690.0 253.9h0.9M707.9 271.7h0.9M764.3 270.7h0.9M752.3 245.2h0.9M726.3 279.4h0.9M735.7 244.0h0.9M712.9 286.3h0.9M706.2 258.9h0.9M706.2 272.4h0.9M719.8 259.4h0.9M728.8 276.5h0.9M691.4 252.6h0.9M664.6 263.8h0.9M715.3 258.4h0.9M699.5 266.2h0.9M715.8 275.9h0.9M736.4 274.0h0.9M743.7 254.6h0.9M730.6 273.2h0.9M688.2 258.6h0.9M726.4 269.0h0.9M682.7 260.4h0.9M717.1 286.6h0.9M691.7 265.6h0.9M739.6 263.4h0.9M686.3 276.1h0.9M756.2 232.9h0.9M719.0 250.7h0.9M707.3 248.5h0.9M716.1 258.2h0.9M689.6 261.7h0.9M687.6 269.0h0.9M703.8 246.3h0.9M721.3 257.6h0.9M700.2 253.7h0.9M741.3 262.4h0.9M711.3 270.5h0.9M683.5 271.2h0.9M710.6 274.2h0.9M705.1 268.5h0.9M728.3 281.4h0.9M697.3 281.4h0.9M689.7 265.4h0.9M718.3 270.0h0.9M650.8 254.5h0.9M710.3 280.8h0.9M668.7 269.1h0.9M728.9 268.2h0.9M721.8 280.9h0.9M694.3 276.2h0.9M742.3 264.8h0.9M655.5 251.5h0.9M693.1 253.4h0.9M726.1 256.9h0.9M681.5 264.0h0.9M754.3 277.4h0.9M688.8 282.3h0.9M700.8 276.3h0.9M729.5 261.9h0.9M711.1 284.0h0.9M727.8 267.2h0.9M739.0 274.6h0.9M723.5 246.4h0.9M718.5 261.3h0.9M733.8 259.6h0.9M726.5 253.5h0.9M738.0 257.9h0.9M714.3 276.0h0.9M706.7 268.1h0.9M668.6 255.5h0.9M732.4 281.0h0.9M702.8 269.3h0.9M709.9 251.5h0.9M675.1 250.3h0.9M748.5 262.6h0.9M724.8 276.9h0.9M735.3 280.7h0.9M689.9 260.3h0.9M700.9 269.4h0.9M708.6 251.0h0.9M769.5 256.2h0.9M724.8 267.5h0.9M693.3 277.9h0.9M726.7 263.7h0.9M647.0 266.6h0.9M736.8 258.1h0.9M737.7 277.4h0.9M669.6 265.3h0.9M723.2 278.4h0.9M719.0 267.8h0.9M706.1 264.0h0.9M715.1 253.3h0.9M731.5 263.5h0.9M728.4 261.0h0.9M725.6 269.8h0.9M737.9 274.4h0.9M739.0 265.7h0.9M713.6 264.4h0.9M682.8 266.3h0.9M743.0 278.6h0.9M693.2 272.1h0.9M734.3 249.2h0.9M724.0 272.6h0.9M734.2 271.5h0.9M670.3 240.2h0.9M766.0 262.5h0.9M717.2 252.2h0.9M750.1 267.5h0.9M728.3 274.6h0.9M739.5 282.0h0.9M678.5 248.6h0.9M718.6 268.1h0.9M735.0 266.1h0.9M741.6 257.1h0.9M712.8 267.0h0.9M686.9 256.0h0.9M719.1 251.3h0.9M728.9 274.5h0.9M708.9 263.3h0.9M730.5 274.6h0.9M724.4 251.1h0.9M698.2 263.0h0.9M668.1 257.0h0.9M696.2 279.0h0.9M647.1 248.7h0.9M704.4 261.2h0.9M695.1 261.9h0.9M674.5 271.7h0.9M745.7 270.1h0.9M701.2 285.4h0.9M727.5 253.8h0.9M700.3 259.6h0.9M713.8 284.7h0.9M696.9 266.0h0.9M717.9 251.6h0.9M702.8 276.4h0.9M744.1 242.2h0.9M733.2 264.0h0.9M748.1 276.6h0.9M704.8 256.5h0.9M678.2 275.6h0.9M728.3 279.3h0.9M724.0 247.4h0.9M704.6 264.7h0.9M719.1 278.6h0.9M751.4 271.9h0.9M662.0 254.0h0.9M660.2 257.5h0.9M684.2 271.3h0.9M709.3 283.3h0.9M742.7 261.7h0.9M739.3 268.2h0.9M726.7 286.5h0.9M685.5 267.1h0.9M754.5 257.5h0.9M720.5 269.8h0.9M704.3 250.0h0.9M697.4 254.5h0.9M742.8 271.4h0.9M733.1 251.7h0.9M727.9 270.0h0.9M742.0 258.1h0.9M761.3 255.2h0.9M686.2 247.9h0.9M739.7 276.2h0.9M723.8 256.1h0.9M714.1 266.4h0.9M745.6 275.0h0.9M749.6 262.5h0.9M723.7 263.4h0.9M700.4 263.9h0.9M707.7 274.9h0.9M707.2 269.0h0.9M694.2 251.2h0.9M751.7 254.5h0.9M656.2 259.2h0.9M704.3 268.3h0.9M710.4 259.7h0.9M747.2 266.3h0.9M739.8 258.6h0.9M697.3 286.3h0.9M707.8 252.9h0.9M710.7 282.4h0.9M710.9 258.2h0.9M731.4 281.5h0.9M709.7 263.6h0.9M711.2 273.6h0.9M662.7 270.4h0.9M716.4 263.7h0.9M704.5 249.3h0.9M676.8 270.3h0.9M698.6 266.8h0.9M710.4 261.1h0.9M686.7 261.0h0.9M707.5 252.2h0.9M690.4 279.8h0.9M739.0 269.8h0.9M746.7 256.8h0.9M705.3 292.8h0.9M694.4 252.5h0.9M713.9 257.0h0.9M731.4 252.9h0.9M717.2 241.2h0.9M714.2 282.4h0.9M708.3 272.3h0.9M743.1 253.0h0.9M682.4 269.1h0.9M722.2 264.3h0.9M690.2 284.6h0.9M685.2 264.5h0.9M714.0 277.9h0.9M703.6 256.8h0.9M766.8 256.5h0.9M735.6 265.9h0.9M702.8 267.4h0.9M708.5 272.3h0.9M649.8 267.6h0.9M716.9 254.7h0.9M705.1 300.0h0.9M721.1 263.8h0.9M750.7 261.9h0.9M694.0 277.5h0.9M690.3 257.2h0.9M752.3 246.1h0.9M713.4 269.6h0.9M721.7 248.1h0.9M709.3 263.4h0.9M695.7 280.0h0.9M731.9 266.5h0.9M708.9 264.3h0.9M675.5 259.4h0.9M762.7 262.9h0.9M730.9 235.1h0.9M708.2 250.8h0.9M736.2 245.4h0.9M688.4 252.9h0.9M725.3 279.5h0.9M719.2 256.6h0.9M724.1 267.8h0.9M736.5 272.7h0.9M698.7 278.8h0.9M734.6 254.3h0.9M695.9 257.0h0.9M651.8 276.7h0.9M709.6 284.8h0.9M700.8 269.0h0.9M733.7 281.2h0.9M723.3 253.8h0.9M751.2 273.7h0.9M727.3 276.6h0.9M676.6 279.1h0.9M690.1 273.8h0.9M689.2 277.8h0.9M720.1 274.9h0.9M691.9 264.1h0.9M713.7 264.1h0.9M704.0 256.1h0.9M734.7 262.8h0.9M694.3 273.0h0.9M694.3 265.6h0.9M702.0 255.4h0.9M709.4 256.8h0.9M683.0 272.8h0.9M707.6 248.0h0.9M705.1 270.6h0.9M726.2 273.1h0.9M721.7 276.2h0.9M702.5 257.1h0.9M730.9 262.4h0.9M715.4 276.9h0.9M697.6 263.0h0.9M729.4 248.5h0.9M682.9 276.3h0.9M699.5 255.4h0.9M735.8 275.3h0.9M738.7 263.5h0.9M707.8 263.4h0.9M722.8 240.3h0.9M697.5 277.7h0.9M695.2 267.1h0.9M718.4 275.1h0.9M703.0 252.6h0.9M779.1 258.3h0.9M759.0 244.1h0.9M754.1 228.5h0.9M754.0 229.7h0.9M756.0 231.7h0.9M756.9 231.4h0.9M751.2 233.4h0.9M746.2 230.3h0.9M755.0 228.7h0.9M759.5 227.4h0.9M750.6 228.8h0.9M755.3 231.9h0.9M754.4 231.6h0.9M752.0 228.5h0.9M754.4 226.8h0.9M754.6 229.1h0.9M756.0 227.6h0.9M752.5 228.6h0.9M753.0 227.6h0.9M753.3 226.7h0.9M755.6 231.6h0.9M754.0 229.6h0.9M751.5 227.7h0.9M753.4 227.8h0.9M750.6 230.4h0.9M754.0 229.0h0.9M751.7 229.9h0.9M752.0 229.0h0.9M754.6 231.7h0.9M756.3 228.5h0.9M757.6 227.2h0.9M753.5 233.2h0.9M761.0 230.3h0.9M753.0 229.1h0.9M750.5 229.7h0.9M752.8 228.2h0.9M757.5 228.1h0.9M715.0 246.9h0.9M708.8 238.6h0.9M702.1 230.4h0.9M706.7 240.5h0.9M707.4 238.1h0.9M707.9 233.3h0.9M692.4 244.8h0.9M711.3 223.8h0.9M712.6 240.0h0.9M704.2 233.1h0.9M699.3 246.1h0.9M700.8 241.8h0.9M704.2 253.5h0.9M710.3 234.4h0.9M702.3 235.4h0.9M697.0 238.1h0.9M711.5 242.3h0.9M709.0 241.2h0.9M702.6 242.5h0.9M704.6 253.2h0.9M715.5 244.2h0.9M708.6 230.5h0.9M704.4 255.9h0.9M700.5 246.7h0.9M712.2 239.7h0.9M703.8 239.4h0.9M709.7 242.1h0.9M713.8 248.9h0.9M705.0 257.1h0.9M703.3 238.5h0.9M703.7 236.9h0.9M702.6 241.6h0.9M710.2 232.8h0.9M697.0 237.5h0.9M703.3 244.6h0.9M700.5 250.8h0.9M702.0 240.8h0.9M705.4 248.8h0.9M706.8 242.2h0.9M701.9 243.0h0.9M742.0 274.0h0.9M740.0 269.7h0.9M737.5 278.4h0.9M746.9 274.8h0.9M729.6 280.3h0.9M739.2 282.5h0.9M738.1 277.9h0.9M737.1 279.0h0.9M745.6 271.9h0.9M739.0 271.5h0.9M741.4 273.8h0.9M732.8 272.0h0.9M741.2 270.6h0.9M745.3 276.3h0.9M739.2 279.1h0.9M735.6 277.0h0.9M733.5 274.1h0.9M743.1 273.4h0.9M739.5 276.9h0.9M747.4 278.8h0.9M742.3 274.2h0.9M733.1 280.0h0.9M749.1 268.7h0.9M744.2 274.9h0.9M743.5 275.9h0.9M739.1 275.0h0.9M739.9 278.4h0.9M738.8 273.4h0.9M743.2 276.9h0.9M742.1 275.8h0.9M747.1 278.2h0.9M741.1 274.4h0.9M743.2 269.6h0.9M737.5 272.9h0.9M740.9 273.9h0.9M751.9 277.2h0.9M742.0 281.6h0.9M740.0 274.1h0.9M746.0 277.4h0.9M744.5 278.5h0.9" stroke="#8c4a4a" stroke-width="0.9" opacity="0.8" fill="none"/>
<path d="M727.5 238.7h1.1M734.5 253.9h1.1M730.9 233.1h1.1M723.9 234.9h1.1M725.0 241.8h1.1M723.9 238.3h1.1M732.8 249.8h1.1M719.7 233.5h1.1M725.6 248.8h1.1M725.7 253.0h1.1M728.5 249.8h1.1M723.7 237.9h1.1M731.0 243.9h1.1M719.7 238.1h1.1M727.7 244.3h1.1M724.5 251.8h1.1M727.6 249.9h1.1M728.6 240.6h1.1M725.8 232.1h1.1M730.4 245.2h1.1M730.7 237.5h1.1M723.1 237.4h1.1M725.8 239.9h1.1M730.9 233.8h1.1M725.1 244.7h1.1M730.6 255.0h1.1M729.1 234.3h1.1M723.0 234.6h1.1M727.3 241.7h1.1M726.8 235.8h1.1M726.3 239.5h1.1M729.4 240.6h1.1M723.9 232.1h1.1M732.9 239.4h1.1M726.4 239.8h1.1M731.5 237.9h1.1M727.7 238.4h1.1M729.3 233.2h1.1M727.8 247.0h1.1M731.7 244.2h1.1M728.2 250.7h1.1M729.8 249.5h1.1M722.3 232.6h1.1M730.2 238.2h1.1M725.4 233.6h1.1M732.9 231.9h1.1M727.5 230.6h1.1M726.4 255.2h1.1M736.6 236.7h1.1M723.1 251.1h1.1M723.7 227.9h1.1M728.4 232.7h1.1M721.4 247.6h1.1M724.2 232.8h1.1M727.7 238.7h1.1M731.5 240.7h1.1M733.3 247.7h1.1M734.0 247.6h1.1M727.3 243.7h1.1M727.1 229.5h1.1M722.4 245.0h1.1M717.8 234.4h1.1M722.0 239.6h1.1M723.0 241.7h1.1M726.3 236.8h1.1M723.7 225.0h1.1M727.3 231.3h1.1M725.9 242.5h1.1M731.2 244.8h1.1M732.9 230.4h1.1M729.7 250.6h1.1M728.6 232.5h1.1M728.6 236.5h1.1M724.5 247.2h1.1M726.4 232.4h1.1M724.4 253.3h1.1M723.8 244.6h1.1M727.8 247.9h1.1M726.0 233.6h1.1M724.6 233.0h1.1M737.2 241.3h1.1M725.8 248.5h1.1M729.6 238.8h1.1M729.5 241.9h1.1M731.5 251.2h1.1M725.8 239.8h1.1M726.4 248.3h1.1M728.6 245.3h1.1M730.6 235.7h1.1M727.6 249.4h1.1M730.7 245.5h1.1M726.0 237.6h1.1M723.7 238.2h1.1M726.8 230.3h1.1M731.6 234.8h1.1M728.0 244.1h1.1M724.9 227.8h1.1M730.8 242.8h1.1M726.1 247.7h1.1M730.6 233.6h1.1M726.8 228.1h1.1M726.0 249.6h1.1M723.8 245.6h1.1M721.2 238.0h1.1M730.7 251.6h1.1M728.8 245.1h1.1M733.8 223.5h1.1M720.4 252.8h1.1M736.7 244.1h1.1M727.3 241.8h1.1" stroke="#4a5a78" stroke-width="1.1" opacity="0.85" fill="none"/>
<path d="M448.9 178.3L448.0 176.6L443.0 175.8L435.4 173.2L432.0 168.2L426.1 163.9L420.5 162.6L425.2 160.6L422.7 153.0L416.8 151.3L412.5 146.2L415.1 139.4L423.5 136.1L429.4 135.2L431.1 137.4L435.4 136.9L437.9 133.0L444.6 129.3L453.9 126.8L464.1 122.9L468.3 116.6L470.0 113.2L467.5 105.6L463.7 100.2L468.3 98.9L477.6 96.3L484.0 96.8L482.7 93.0L486.1 85.4L488.6 81.5L492.8 82.8L501.3 82.8L508.9 81.6L508.5 76.1L510.6 71.8L517.3 70.1L519.5 66.4L525.8 65.6L528.3 69.3L534.2 73.2L541.8 76.1L547.7 79.9L552.0 85.4L552.3 90.4L549.9 94.6L552.8 97.5L562.1 99.2L572.2 100.2L580.7 103.6L586.6 105.6L590.0 110.7L595.1 116.6L606.0 118.3L621.3 118.8L634.8 119.2L644.1 122.9L654.2 125.6L664.4 126.2L676.2 122.2L689.7 120.5L698.5 119.7L706.1 117.2L712.0 113.8L717.9 109.6L716.2 103.7L719.6 99.4L725.5 99.4L731.4 101.1L739.0 96.1L745.8 96.9L752.5 94.4L757.6 89.3L764.4 87.6L772.8 86.2L782.1 85.9L783.0 83.4L777.9 78.3L772.8 74.9L762.7 76.6L751.7 76.6L748.3 74.1L752.5 66.5L756.8 60.6L762.7 61.4L769.4 60.6L776.2 58.0L779.6 53.0L783.8 47.0L788.0 42.8L789.7 38.6L785.5 36.1L793.1 32.2L803.2 30.5L813.4 30.1L823.5 31.8L831.1 35.2L836.2 41.1L840.4 50.4L843.8 58.9L848.0 61.4L856.5 62.3L862.4 64.8L868.3 69.9L871.7 76.6L879.3 77.5L889.4 74.1L897.9 72.4L903.8 71.5L901.3 75.8L897.9 84.2L892.8 92.7L888.6 98.6L884.4 96.9L877.6 98.6L871.7 100.3L872.5 104.5L873.4 113.0L868.3 118.9L864.1 115.5L859.0 119.7L854.8 121.4L848.9 123.9L848.0 128.2L844.6 128.2L838.7 125.6L833.7 129.9L828.6 133.4L821.8 136.8L815.1 141.0L808.3 142.7L809.1 146.1L804.9 144.4L798.2 146.9L793.9 148.6L795.6 142.7L799.9 139.3L801.5 135.1L798.2 132.0L790.6 134.2L784.6 139.3L777.9 142.7L772.8 146.1L766.1 146.9L764.4 150.3L767.7 154.5L773.7 157.0L774.5 160.4L777.9 163.0L784.6 161.3L791.4 157.9L798.2 160.4L805.8 161.3L803.2 164.6L794.8 167.2L786.3 170.6L782.1 174.8L777.9 180.7L780.4 184.1L786.3 186.6L789.7 194.2L793.1 201.0L798.2 207.7L798.2 212.8L791.4 218.7L798.2 214.5L801.5 217.9L805.8 214.5L799.9 223.0L798.2 229.7L793.1 235.6L787.2 243.2L781.3 249.1L781.1 258.7L774.4 263.8L767.6 268.0L762.5 273.1L755.8 277.3L746.5 279.9L738.9 283.2L734.6 280.7L732.1 285.8L723.7 288.3L715.2 290.0L708.4 291.7L706.8 295.1L709.3 298.4L707.6 301.8L703.4 299.3L701.7 293.4L700.8 290.0L696.6 288.3L691.5 289.2L683.9 288.3L678.0 284.9L676.7 279.9L672.1 279.0L667.0 275.6L662.8 276.5L656.9 280.4L652.7 279.0L649.3 280.7L640.8 281.5L637.1 285.8L637.5 292.5L634.1 292.5L630.7 289.2L624.8 288.3L618.0 284.1L620.2 278.2L616.3 276.5L613.8 270.2L607.9 269.2L605.4 270.6L604.5 266.3L607.9 260.4L613.0 253.7L613.8 245.2L610.4 237.6L605.4 233.4L601.1 238.5L595.2 235.9L588.5 235.9L581.7 240.1L579.0 241.1L573.9 246.2L560.9 246.5L558.7 242.0L555.3 237.7L543.5 236.1L539.3 237.7L535.9 243.7L534.2 237.4L521.5 239.1L513.1 237.7L509.7 234.4L501.3 231.8L497.0 227.6L492.8 227.6L484.4 221.7L476.8 217.8L473.4 220.0L464.1 215.4L456.0 212.1L453.1 206.5L452.3 200.9L458.2 200.2L458.2 195.5L454.3 189.6L456.0 186.2L450.6 182.0L448.9 176.9Z" fill="none" stroke="#111" stroke-width="1.05" stroke-linejoin="round"/>
<path d="M696.6 306.1L701.7 303.5L708.4 302.7L711.8 304.4L710.1 309.4L705.9 314.5L700.8 317.0L694.9 314.5L693.6 309.4ZM798.0 259.6L799.7 262.1L797.2 272.3L793.8 280.7L790.4 286.6L787.0 281.5L784.5 274.8L788.7 266.3L793.8 261.3Z" fill="#ecf7fb" stroke="#111" stroke-width="0.9" stroke-linejoin="round"/>
</g>
<g id="map1x">
<path d="M793.1 201.0L798.2 207.7L798.2 212.8L791.4 218.7L798.2 214.5L801.5 217.9L805.8 214.5L799.9 223.0L798.2 229.7L793.1 235.6L787.2 243.2L781.3 249.1L781.1 258.7L774.4 263.8L767.6 268.0L762.5 273.1L755.8 277.3L746.5 279.9L738.9 283.2L734.6 280.7L732.1 285.8L723.7 288.3L715.2 290.0L708.4 291.7L706.8 295.1L709.3 298.4L707.6 301.8L703.4 299.3L701.7 293.4L700.8 290.0L696.6 288.3L691.5 289.2L683.9 288.3L678.0 284.9" fill="none" stroke="#000" stroke-width="1.6" stroke-linejoin="round" stroke-linecap="round"/>
<path d="M804.9 144.4L798.2 146.9L793.9 148.6L795.6 142.7L799.9 139.3L801.5 135.1L798.2 132.0M784.6 161.3L791.4 157.9L798.2 160.4L805.8 161.3L803.2 164.6L794.8 167.2L786.3 170.6L782.1 174.8" fill="none" stroke="#000" stroke-width="1.4" stroke-linejoin="round"/>
<text class="bi" x="522" y="42.2" font-size="24" textLength="254.4" lengthAdjust="spacingAndGlyphs" fill="#000">Distribution of paddy rice</text>
<text class="bi" x="609.1" y="71.2" font-size="24" textLength="86.7" lengthAdjust="spacingAndGlyphs" fill="#000">in China</text>
<path d="M468.2 48.7L473.8 30.8" stroke="#999" stroke-width="0.6" fill="none"/>
<path d="M473.8 30.8L480.1 49.2M468.2 48.7Q472.5 46 480.1 49.2" stroke="#111" stroke-width="0.9" fill="none"/>
<text x="474.6" y="57.6" text-anchor="middle" style="font-family:'Liberation Sans',sans-serif;font-size:7.5px" fill="#111">N</text>
<path d="M409 280.3H490.6V348" fill="none" stroke="#000" stroke-width="1"/>
<path d="M441.2 314.3l2.2 -2.2M467.3 313.7l-0.4 -2.2M464.8 311.3l-0.2 -0.8M453.1 311.4l-0.4 -2.2M455.3 313.9l0.6 -0.2M442.7 318.7l-0.2 -1.0M448.1 313.0l1.6 -1.6M442.4 322.1l-0.2 -0.2M447.5 315.4l-0.2 -0.2M443.8 315.4l-0.2 -1.0M442.8 319.6l1.5 -0.7M440.1 321.6l1.5 -2.2M450.6 315.3l1.2 -1.2M454.6 314.0l1.2 -1.2M463.9 318.3l1.2 -1.0M447.1 319.1l0.8 -1.2M443.2 317.4l-0.4 -0.7M466.4 310.0l-0.2 -0.4M462.1 314.8l-0.2 -1.0M463.7 306.2l0.6 -0.2M450.4 320.5l2.2 -1.8M461.7 307.9l-0.2 -0.4M456.9 314.4l-0.2 -0.4M445.3 321.1l-0.2 -0.4M465.2 307.7l1.1 -0.5M455.3 314.4l1.6 -0.5M464.4 308.2l1.2 -1.0M466.0 308.3l-0.4 -0.7M452.2 316.0l0.6 -0.2M462.5 312.8l1.6 -1.6M454.9 312.8l-0.2 -0.8M457.1 312.4l0.8 -0.6M434.0 289.0l1.2 -0.4M436.5 288.0l0.8 -0.4M442.0 285.5l1.8 -1.6M444.5 286.5l1.8 -0.4M451.0 290.0l1.8 -1.6M455.0 289.0l0.8 0.6M466.0 290.0l1.2 -1.6M472.0 290.5l1.2 -0.4M436.5 305.5l1.8 -0.4M428.5 325.0l0.8 0.6M431.0 323.0l1.2 -0.4M437.0 321.0l1.2 -1.6M443.8 338.5l1.8 -1.0M445.3 330.2l0.8 -1.0M446.0 338.0l1.8 -0.4" stroke="#111" stroke-width="0.8" fill="none"/>
<rect x="502" y="332.2" width="163.1" height="4.8" fill="#000"/>
<path d="M512.8 334.6H523M533 334.6H543.2M583.6 334.6H624" stroke="#fff" stroke-width="3.2" fill="none"/>
<text x="502.4" y="327.6" text-anchor="middle" style="font-size:8px" fill="#222">0</text>
<text x="522.4" y="327.6" text-anchor="middle" style="font-size:8px" fill="#222">175</text>
<text x="542.2" y="327.6" text-anchor="middle" style="font-size:8px" fill="#222">350</text>
<text x="583" y="327.6" text-anchor="middle" style="font-size:8px" fill="#222">700</text>
<text x="624.4" y="327.6" text-anchor="middle" style="font-size:8px" fill="#222">1050</text>
<text x="665.1" y="327.6" text-anchor="middle" style="font-size:8px" fill="#222">1400</text>
<text x="667.2" y="336.4" style="font-size:8.6px" fill="#222">Miles</text>
<rect x="851.8" y="261.7" width="22" height="10.4" fill="#8c4242"/>
<text x="819.9" y="288.7" style="font-size:12px" textLength="86.6" lengthAdjust="spacingAndGlyphs" fill="#222">double paddy rice</text>
<rect x="851.3" y="314" width="23.5" height="11" fill="#1cb0f0"/>
<text x="821.7" y="339" style="font-size:12px" textLength="82.3" lengthAdjust="spacingAndGlyphs" fill="#222">single paddy rice</text>
<path d="M805.6 267.2L804.4 273.9M798.0 289.2L794.3 295.1M783.7 311.1L780.3 317.9M698.3 333.1L702.5 340.7M776.6 335.1L776.6 343.6M781.1 271.4L780.3 274.8M791.3 265.5L791.6 269.7" stroke="#111" stroke-width="0.8" fill="none"/>
<path d="M758.8 297.1h1.2M765.9 341.5h1.2M716.0 326.7h1.2M721.1 328.0h1.2M717.7 331.4h1.2M723.7 333.1h1.2M718.9 333.4h1.2M725.0 329.4h1.2M796.3 285.8h1.2M812.4 255.4h1.2M800.6 257.0h1.2" stroke="#111" stroke-width="1.2" fill="none"/>
<ellipse cx="738.4" cy="336.3" rx="5" ry="2" transform="rotate(-25 738.4 336.3)" fill="none" stroke="#111" stroke-width="0.7" stroke-dasharray="2 1"/>
</g>
<!-- map 2 -->
<g id="map2">
<defs><clipPath id="cn2"><path d="M987.2 186.0L986.4 184.6L981.8 183.8L975.0 181.6L971.9 177.2L966.6 173.5L961.6 172.3L965.8 170.6L963.6 164.0L958.2 162.5L954.4 158.1L956.7 152.2L964.3 149.3L969.7 148.5L971.2 150.4L975.0 150.0L977.3 146.6L983.4 143.4L991.7 141.2L1000.9 137.8L1004.7 132.4L1006.2 129.4L1003.9 122.8L1000.6 118.1L1004.7 116.9L1013.1 114.7L1018.9 115.2L1017.6 111.8L1020.7 105.2L1023.0 101.8L1026.8 102.9L1034.4 102.9L1041.2 101.9L1040.9 97.1L1042.8 93.4L1048.9 91.9L1050.8 88.7L1056.5 88.0L1058.8 91.2L1064.1 94.6L1070.9 97.1L1076.3 100.5L1080.1 105.2L1080.4 109.6L1078.3 113.2L1080.8 115.7L1089.2 117.2L1098.4 118.1L1106.0 121.0L1111.3 122.8L1114.4 127.2L1118.9 132.4L1128.8 133.8L1142.5 134.3L1154.7 134.6L1163.1 137.8L1172.3 140.1L1181.4 140.7L1192.1 137.2L1204.2 135.7L1212.1 135.1L1219.0 132.8L1224.3 129.9L1229.6 126.2L1228.1 121.1L1231.2 117.4L1236.5 117.4L1241.8 118.9L1248.7 114.5L1254.8 115.2L1260.9 113.0L1265.4 108.6L1271.5 107.1L1279.1 105.9L1287.5 105.6L1288.3 103.4L1283.7 99.0L1279.1 96.1L1270.0 97.6L1260.1 97.6L1257.0 95.4L1260.9 88.7L1264.7 83.6L1270.0 84.3L1276.1 83.6L1282.2 81.4L1285.2 77.0L1289.0 71.8L1292.8 68.1L1294.4 64.5L1290.6 62.3L1297.4 58.9L1306.6 57.4L1315.7 57.1L1324.8 58.6L1331.7 61.5L1336.3 66.7L1340.1 74.8L1343.1 82.1L1346.9 84.3L1354.5 85.1L1359.9 87.3L1365.2 91.7L1368.2 97.6L1375.1 98.3L1384.2 95.4L1391.9 93.9L1397.2 93.1L1394.9 96.8L1391.9 104.2L1387.3 111.5L1383.5 116.7L1379.7 115.2L1373.6 116.7L1368.2 118.1L1369.0 121.8L1369.8 129.2L1365.2 134.3L1361.4 131.4L1356.8 135.1L1353.0 136.5L1347.7 138.7L1346.9 142.4L1343.9 142.4L1338.5 140.2L1334.0 143.9L1329.4 146.9L1323.3 149.9L1317.2 153.6L1311.1 155.0L1311.9 158.0L1308.1 156.5L1302.0 158.7L1298.2 160.2L1299.7 155.0L1303.5 152.1L1305.0 148.4L1302.0 145.8L1295.1 147.7L1289.8 152.1L1283.7 155.0L1279.1 158.0L1273.0 158.7L1271.5 161.6L1274.6 165.3L1279.9 167.5L1280.7 170.5L1283.7 172.7L1289.8 171.2L1295.9 168.3L1302.0 170.5L1308.8 171.2L1306.6 174.1L1298.9 176.3L1291.3 179.3L1287.5 183.0L1283.7 188.1L1286.0 191.1L1291.3 193.3L1294.4 199.9L1297.4 205.8L1302.0 211.6L1302.0 216.0L1295.9 221.2L1302.0 217.5L1305.0 220.5L1308.8 217.5L1303.5 224.9L1302.0 230.8L1297.4 235.9L1292.1 242.5L1286.8 247.7L1286.6 256.0L1280.5 260.4L1274.4 264.1L1269.9 268.5L1263.8 272.2L1255.4 274.4L1248.5 277.3L1244.7 275.1L1242.4 279.5L1234.8 281.7L1227.2 283.2L1221.1 284.7L1219.6 287.6L1221.9 290.5L1220.4 293.5L1216.6 291.3L1215.0 286.1L1214.3 283.2L1210.5 281.7L1205.9 282.5L1199.0 281.7L1193.7 278.8L1192.5 274.4L1188.4 273.6L1183.8 270.7L1180.0 271.4L1174.7 274.8L1170.9 273.6L1167.8 275.1L1160.2 275.8L1156.8 279.5L1157.1 285.4L1154.1 285.4L1151.1 282.5L1145.7 281.7L1139.6 278.1L1141.6 272.9L1138.1 271.4L1135.8 266.0L1130.5 265.1L1128.2 266.3L1127.4 262.6L1130.5 257.5L1135.1 251.6L1135.8 244.2L1132.8 237.6L1128.2 233.9L1124.4 238.4L1119.1 236.1L1113.0 236.1L1106.9 239.8L1104.5 240.7L1099.9 245.1L1088.2 245.4L1086.2 241.4L1083.1 237.7L1072.5 236.3L1068.7 237.7L1065.6 242.9L1064.1 237.4L1052.7 238.9L1045.1 237.7L1042.0 234.8L1034.4 232.6L1030.6 228.9L1026.8 228.9L1019.2 223.8L1012.3 220.4L1009.3 222.3L1000.9 218.3L993.6 215.4L991.0 210.5L990.2 205.7L995.5 205.1L995.5 201.0L992.0 195.8L993.6 192.9L988.7 189.2L987.2 184.8Z"/></clipPath></defs>
<g clip-path="url(#cn2)" stroke="#05051e" stroke-width="1.6" stroke-linejoin="round">
<path d="M987.2 186.0L986.4 184.6L981.8 183.8L975.0 181.6L971.9 177.2L966.6 173.5L961.6 172.3L965.8 170.6L963.6 164.0L958.2 162.5L954.4 158.1L956.7 152.2L964.3 149.3L969.7 148.5L971.2 150.4L975.0 150.0L977.3 146.6L983.4 143.4L991.7 141.2L1000.9 137.8L1004.7 132.4L1006.2 129.4L1003.9 122.8L1000.6 118.1L1004.7 116.9L1013.1 114.7L1018.9 115.2L1017.6 111.8L1020.7 105.2L1023.0 101.8L1026.8 102.9L1034.4 102.9L1041.2 101.9L1040.9 97.1L1042.8 93.4L1048.9 91.9L1050.8 88.7L1056.5 88.0L1058.8 91.2L1064.1 94.6L1070.9 97.1L1076.3 100.5L1080.1 105.2L1080.4 109.6L1078.3 113.2L1080.8 115.7L1089.2 117.2L1098.4 118.1L1106.0 121.0L1111.3 122.8L1114.4 127.2L1118.9 132.4L1128.8 133.8L1142.5 134.3L1154.7 134.6L1163.1 137.8L1172.3 140.1L1181.4 140.7L1192.1 137.2L1204.2 135.7L1212.1 135.1L1219.0 132.8L1224.3 129.9L1229.6 126.2L1228.1 121.1L1231.2 117.4L1236.5 117.4L1241.8 118.9L1248.7 114.5L1254.8 115.2L1260.9 113.0L1265.4 108.6L1271.5 107.1L1279.1 105.9L1287.5 105.6L1288.3 103.4L1283.7 99.0L1279.1 96.1L1270.0 97.6L1260.1 97.6L1257.0 95.4L1260.9 88.7L1264.7 83.6L1270.0 84.3L1276.1 83.6L1282.2 81.4L1285.2 77.0L1289.0 71.8L1292.8 68.1L1294.4 64.5L1290.6 62.3L1297.4 58.9L1306.6 57.4L1315.7 57.1L1324.8 58.6L1331.7 61.5L1336.3 66.7L1340.1 74.8L1343.1 82.1L1346.9 84.3L1354.5 85.1L1359.9 87.3L1365.2 91.7L1368.2 97.6L1375.1 98.3L1384.2 95.4L1391.9 93.9L1397.2 93.1L1394.9 96.8L1391.9 104.2L1387.3 111.5L1383.5 116.7L1379.7 115.2L1373.6 116.7L1368.2 118.1L1369.0 121.8L1369.8 129.2L1365.2 134.3L1361.4 131.4L1356.8 135.1L1353.0 136.5L1347.7 138.7L1346.9 142.4L1343.9 142.4L1338.5 140.2L1334.0 143.9L1329.4 146.9L1323.3 149.9L1317.2 153.6L1311.1 155.0L1311.9 158.0L1308.1 156.5L1302.0 158.7L1298.2 160.2L1299.7 155.0L1303.5 152.1L1305.0 148.4L1302.0 145.8L1295.1 147.7L1289.8 152.1L1283.7 155.0L1279.1 158.0L1273.0 158.7L1271.5 161.6L1274.6 165.3L1279.9 167.5L1280.7 170.5L1283.7 172.7L1289.8 171.2L1295.9 168.3L1302.0 170.5L1308.8 171.2L1306.6 174.1L1298.9 176.3L1291.3 179.3L1287.5 183.0L1283.7 188.1L1286.0 191.1L1291.3 193.3L1294.4 199.9L1297.4 205.8L1302.0 211.6L1302.0 216.0L1295.9 221.2L1302.0 217.5L1305.0 220.5L1308.8 217.5L1303.5 224.9L1302.0 230.8L1297.4 235.9L1292.1 242.5L1286.8 247.7L1286.6 256.0L1280.5 260.4L1274.4 264.1L1269.9 268.5L1263.8 272.2L1255.4 274.4L1248.5 277.3L1244.7 275.1L1242.4 279.5L1234.8 281.7L1227.2 283.2L1221.1 284.7L1219.6 287.6L1221.9 290.5L1220.4 293.5L1216.6 291.3L1215.0 286.1L1214.3 283.2L1210.5 281.7L1205.9 282.5L1199.0 281.7L1193.7 278.8L1192.5 274.4L1188.4 273.6L1183.8 270.7L1180.0 271.4L1174.7 274.8L1170.9 273.6L1167.8 275.1L1160.2 275.8L1156.8 279.5L1157.1 285.4L1154.1 285.4L1151.1 282.5L1145.7 281.7L1139.6 278.1L1141.6 272.9L1138.1 271.4L1135.8 266.0L1130.5 265.1L1128.2 266.3L1127.4 262.6L1130.5 257.5L1135.1 251.6L1135.8 244.2L1132.8 237.6L1128.2 233.9L1124.4 238.4L1119.1 236.1L1113.0 236.1L1106.9 239.8L1104.5 240.7L1099.9 245.1L1088.2 245.4L1086.2 241.4L1083.1 237.7L1072.5 236.3L1068.7 237.7L1065.6 242.9L1064.1 237.4L1052.7 238.9L1045.1 237.7L1042.0 234.8L1034.4 232.6L1030.6 228.9L1026.8 228.9L1019.2 223.8L1012.3 220.4L1009.3 222.3L1000.9 218.3L993.6 215.4L991.0 210.5L990.2 205.7L995.5 205.1L995.5 201.0L992.0 195.8L993.6 192.9L988.7 189.2L987.2 184.8Z" fill="#2228ee" stroke="none"/>
<path d="M930.0 50.0L1117.7 50.0L1117.7 133.8L1112.1 140.8L1105.1 145.1L1100.8 148.6L1094.5 152.8L1093.4 157.7L1090.0 165.0L1085.0 185.0L1075.0 200.0L1000.0 215.0L930.0 215.0Z" fill="#2b0ff0"/>
<path d="M993.5 192.8L1000.6 188.6L1010.4 185.8L1018.9 184.8L1027.3 185.8L1038.6 182.3L1048.5 179.2L1059.7 178.0L1069.6 178.7L1071.7 181.5L1100.0 185.0L1145.0 195.0L1150.0 240.0L1140.0 262.0L1140.0 300.0L930.0 300.0L930.0 192.0Z" fill="#2e10ee"/>
<path d="M1093.4 157.7L1085.4 160.6L1075.5 164.1L1074.1 167.6L1076.9 170.4L1081.1 173.2L1079.7 178.9L1072.0 181.0L1071.7 181.5L1069.6 186.5L1070.3 193.5L1073.1 197.7L1079.4 202.0L1086.5 204.1L1094.9 206.2L1103.4 207.6L1111.1 210.4L1118.2 212.5L1124.5 209.7L1128.7 206.2L1127.6 201.7L1128.6 197.0L1133.5 198.9L1139.2 202.1L1146.2 204.9L1151.8 203.8L1156.8 201.3L1160.3 198.2L1163.1 196.5L1156.1 198.2L1151.1 197.5L1150.1 195.8L1151.5 193.0L1158.6 193.0L1161.4 190.1L1164.2 185.9L1167.0 181.7L1164.9 177.5L1161.4 171.8L1155.8 170.4L1147.3 166.2L1140.3 162.7L1133.2 160.6L1122.7 160.6L1122.0 164.8L1113.5 162.0L1102.3 158.5L1093.4 157.7Z" fill="#2236ee"/>
<path d="M1117.7 120.0L1126.2 120.0L1126.2 134.5L1127.6 140.8L1130.4 145.1L1133.2 148.6L1138.9 146.5L1144.5 147.2L1145.9 150.7L1141.7 153.5L1145.9 155.6L1150.1 157.7L1157.2 161.3L1158.6 162.7L1161.4 159.2L1168.5 158.5L1174.1 157.7L1174.8 160.6L1171.3 164.1L1169.2 166.2L1172.7 169.0L1179.7 171.8L1182.5 172.5L1188.0 175.0L1192.0 182.0L1215.0 178.0L1215.0 210.0L1185.0 215.0L1165.0 205.0L1163.1 196.5L1156.1 198.2L1151.1 197.5L1150.1 195.8L1151.5 193.0L1158.6 193.0L1161.4 190.1L1164.2 185.9L1167.0 181.7L1164.9 177.5L1161.4 171.8L1155.8 170.4L1147.3 166.2L1140.3 162.7L1133.2 160.6L1122.7 160.6L1122.0 164.8L1113.5 162.0L1102.3 158.5L1093.4 157.7L1093.4 157.7L1094.5 152.8L1100.8 148.6L1105.1 145.1L1112.1 140.8L1117.7 133.8Z" fill="#2236ee"/>
<path d="M1182.5 172.5L1183.9 167.6L1186.8 163.4L1188.2 159.9L1193.1 158.5L1194.5 162.0L1193.8 166.2L1197.3 169.0L1197.5 170.0L1195.2 179.0L1193.8 183.1L1191.7 185.2L1187.5 183.8L1184.6 180.3L1183.2 176.1Z" fill="#8c12f0"/>
<path d="M1197.5 170.0L1200.8 168.9L1205.8 168.5L1209.7 165.0L1215.6 160.6L1220.6 157.6L1224.5 156.8L1232.0 158.0L1232.0 212.0L1200.0 216.0L1188.5 202.7L1188.5 199.6L1192.0 193.9L1192.7 189.0L1199.7 188.3L1206.8 186.2L1207.5 180.6L1203.9 177.7L1199.0 178.2L1195.2 179.0Z" fill="#2228ee"/>
<path d="M1128.7 206.2L1127.6 201.7L1128.6 197.0L1133.5 198.9L1139.2 202.1L1146.2 204.9L1151.8 203.8L1156.8 201.3L1160.3 198.2L1163.1 196.5L1167.3 195.4L1171.5 198.9L1177.2 203.8L1181.4 204.5L1187.0 202.1L1188.5 202.7L1194.1 204.5L1199.7 207.3L1204.8 210.4L1215.0 215.0L1215.0 245.0L1185.0 250.0L1165.0 262.0L1145.0 250.0L1137.0 236.0L1137.0 231.3L1136.3 220.7L1134.9 212.3L1128.7 206.2Z" fill="#3052ee"/>
<path d="M1132.1 237.6L1135.6 233.4L1137.0 231.3L1142.0 233.4L1146.2 237.6L1150.4 243.2L1153.7 245.8L1158.6 250.8L1162.5 251.3L1165.5 247.8L1167.0 243.9L1169.4 240.9L1172.4 238.0L1185.2 240.9L1194.1 264.6L1194.1 279.4L1130.0 300.0L1115.0 262.0L1120.0 250.0Z" fill="#2236ee"/>
<path d="M1224.5 156.8L1231.4 154.6L1236.3 152.2L1243.2 150.7L1246.7 151.2L1255.0 155.0L1255.0 195.0L1225.0 195.0L1220.1 189.6L1219.6 187.2L1220.1 182.3L1221.5 176.3L1220.6 171.4L1220.6 166.5L1223.0 161.5L1224.5 156.8Z" fill="#2230ee"/>
<path d="M1246.7 151.2L1244.9 147.7L1245.4 142.8L1248.2 139.4L1253.1 139.9L1259.0 139.4L1264.9 137.4L1271.8 135.4L1275.8 136.9L1277.7 140.8L1280.7 143.8L1283.2 140.8L1284.2 138.9L1295.0 140.0L1300.0 150.0L1290.0 160.0L1285.0 172.0L1260.0 185.0L1250.0 188.0L1243.7 181.3L1243.2 179.3L1243.7 175.4L1244.7 170.4L1242.7 166.5L1243.7 162.5L1247.2 158.6L1248.2 154.6L1246.7 151.2Z" fill="#2230ee"/>
<path d="M1256.1 153.7L1259.0 149.7L1263.9 146.3L1268.9 148.2L1271.8 151.2L1270.8 154.6L1267.9 156.6L1263.0 156.6L1258.0 156.1Z" fill="#2230ee"/>
<path d="M1267.7 155.8L1272.0 154.8L1273.8 158.1L1273.4 162.0L1268.9 162.1L1267.2 159.2Z" fill="#3a52f0"/>
<path d="M1301.5 45.0L1301.5 59.0L1303.0 63.2L1308.6 66.1L1311.4 70.3L1317.0 73.1L1325.5 72.4L1330.4 74.5L1331.1 78.7L1328.3 82.3L1326.9 87.9L1322.7 92.1L1317.0 96.3L1311.4 99.2L1308.6 102.0L1311.4 104.8L1311.8 106.2L1318.0 122.0L1340.0 135.0L1395.0 135.0L1420.0 90.0L1420.0 45.0Z" fill="#b000f0"/>
<path d="M1311.8 106.2L1305.2 111.1L1304.5 117.5L1310.1 121.7L1313.0 127.3L1314.4 130.1L1320.0 140.0L1335.0 150.0L1400.0 150.0L1400.0 125.0L1375.0 127.0L1370.0 127.3L1367.9 125.2L1360.8 126.6L1352.4 125.9L1343.9 123.1L1336.9 117.5L1327.0 114.6L1317.2 111.1L1311.8 106.2Z" fill="#9210f0"/>
<path d="M1284.2 138.9L1286.2 137.9L1290.4 138.6L1298.9 135.8L1307.3 133.0L1314.4 130.1L1322.8 132.3L1327.0 137.9L1329.9 144.2L1332.7 144.9L1340.0 150.0L1330.0 172.0L1300.0 160.0L1292.5 149.7L1288.6 151.0L1284.4 148.5L1282.7 144.8L1284.2 138.9Z" fill="#3058f0"/>
<path d="M1220.1 189.6L1218.6 194.1L1220.6 195.8L1223.5 198.8L1223.0 200.3L1240.0 215.0L1262.0 215.0L1270.0 195.0L1268.0 185.0L1254.1 181.8L1252.1 181.3L1247.2 180.3L1243.7 181.3L1242.3 183.7L1238.3 186.2L1232.4 187.7L1226.5 189.2L1220.1 189.6Z" fill="#3050f0"/>
<path d="M1254.1 181.8L1257.0 177.3L1261.0 173.4L1265.9 170.4L1270.8 168.5L1275.8 167.5L1281.2 168.0L1285.0 165.0L1320.0 165.0L1320.0 195.0L1290.0 200.0L1275.0 196.0L1268.0 197.0L1263.9 190.6L1259.0 191.1L1254.6 189.6L1252.1 187.7L1255.1 185.2L1259.0 182.3L1254.1 181.8Z" fill="#3058f0"/>
<path d="M1223.0 200.3L1218.6 201.8L1214.2 203.2L1214.6 206.2L1213.7 209.5L1205.8 214.6L1205.8 222.5L1207.7 228.4L1219.6 231.3L1245.2 232.3L1263.0 228.4L1264.9 217.5L1259.0 215.6L1257.0 214.1L1251.1 213.1L1245.2 210.6L1239.3 208.2L1233.4 207.2L1227.5 203.7L1223.0 200.3Z" fill="#3278f0"/>
<path d="M1204.8 210.4L1213.7 209.5L1218.1 214.6L1216.1 217.5L1209.7 219.5L1206.3 223.0L1206.8 226.4L1210.2 227.9L1210.7 232.3L1209.7 235.8L1205.8 234.3L1201.8 231.3L1197.9 230.4L1193.9 232.3L1190.0 233.3L1188.5 233.4L1184.9 230.6L1184.2 226.3L1185.6 222.8L1190.0 223.5L1193.9 222.5L1198.9 219.5L1202.8 215.6Z" fill="#3052ee"/>
<path d="M1172.4 238.0L1176.3 238.9L1181.3 240.9L1188.2 238.9L1189.2 235.0L1188.5 233.4L1190.0 233.3L1193.9 232.3L1197.9 230.4L1201.8 231.3L1205.8 234.3L1209.7 235.8L1218.7 244.9L1218.7 257.7L1199.0 264.6L1180.8 262.1L1179.3 258.7L1178.3 253.7L1176.3 248.8L1171.9 243.9L1172.4 238.0Z" fill="#3052ee"/>
<path d="M1259.0 215.6L1258.0 211.6L1259.0 208.7L1255.1 206.2L1253.1 202.7L1257.0 199.8L1259.0 195.8L1263.0 194.9L1264.4 191.4L1278.7 194.9L1288.6 214.6L1286.6 226.4L1273.8 232.3L1262.5 224.4L1261.0 220.5L1259.0 216.5L1259.0 215.6Z" fill="#3274f0"/>
<path d="M1264.4 191.4L1268.9 192.9L1275.8 191.9L1281.7 189.4L1285.6 187.0L1300.0 180.0L1320.0 215.0L1303.4 222.5L1298.4 219.5L1294.5 219.0L1290.6 218.5L1286.1 217.5L1282.7 214.6L1278.7 212.6L1279.7 208.7L1281.7 204.7L1278.7 202.7L1274.8 198.8L1270.8 194.9L1264.4 191.4Z" fill="#3050f0"/>
<path d="M1286.1 217.5L1290.6 218.5L1294.5 219.0L1298.4 219.5L1313.2 219.5L1320.0 250.0L1298.4 249.1L1278.7 246.1L1272.8 234.3L1275.8 227.9L1281.7 225.4L1283.7 221.5L1286.1 217.5Z" fill="#3274f0"/>
<path d="M1246.2 228.9L1251.1 227.4L1257.0 225.4L1262.5 224.4L1266.9 225.4L1270.8 227.4L1275.8 227.9L1277.7 232.3L1278.7 236.3L1281.2 240.7L1278.7 254.0L1270.0 268.0L1245.0 266.0L1238.0 250.0L1240.0 232.0Z" fill="#3290f4"/>
<path d="M1281.2 240.7L1285.6 242.2L1290.6 243.2L1294.5 242.2L1310.0 245.0L1300.0 275.0L1275.0 285.0L1262.0 275.0L1260.1 259.6L1262.1 253.7L1263.9 255.0L1265.9 249.1L1267.9 244.2L1271.8 240.2L1276.8 238.7L1281.2 240.7Z" fill="#3052ee"/>
<path d="M1180.8 262.1L1185.2 260.6L1191.1 258.7L1197.0 256.2L1201.0 257.7L1204.9 258.7L1208.9 255.7L1213.8 253.7L1228.6 249.8L1238.4 264.6L1223.7 289.2L1189.2 289.2L1183.2 274.4L1185.2 273.5L1188.2 271.5L1189.2 267.5L1185.2 265.6L1180.8 262.1Z" fill="#3290f4"/>
<path d="M1232.0 260.1L1236.5 252.7L1247.8 252.7L1247.8 257.7L1249.3 261.6L1253.2 262.1L1258.2 260.6L1260.1 259.6L1265.1 263.6L1267.0 267.5L1268.0 271.5L1270.0 279.4L1258.2 294.2L1223.7 298.1L1213.8 294.2L1213.8 286.3L1217.7 285.3L1218.7 282.3L1221.7 279.4L1225.6 275.4L1227.6 270.5L1230.6 265.6L1232.0 260.1Z" fill="#3290f4"/>
<path d="M1210.2 227.9L1214.6 225.9L1220.6 224.4L1226.5 224.9L1232.4 226.9L1238.3 226.4L1243.2 227.4L1246.2 228.9L1246.7 233.3L1245.2 237.3L1242.7 241.2L1243.7 245.1L1245.2 249.1L1246.3 252.7L1247.8 257.7L1245.4 257.2L1241.4 257.2L1236.5 257.7L1232.0 260.1L1228.6 261.6L1225.6 258.7L1226.1 254.7L1223.7 251.3L1218.7 251.8L1213.8 253.7L1212.8 248.8L1210.8 244.9L1212.8 240.9L1211.8 235.0L1209.7 235.8L1210.7 232.3Z" fill="#10f0fa"/>
</g>
<path d="M987.2 186.0L986.4 184.6L981.8 183.8L975.0 181.6L971.9 177.2L966.6 173.5L961.6 172.3L965.8 170.6L963.6 164.0L958.2 162.5L954.4 158.1L956.7 152.2L964.3 149.3L969.7 148.5L971.2 150.4L975.0 150.0L977.3 146.6L983.4 143.4L991.7 141.2L1000.9 137.8L1004.7 132.4L1006.2 129.4L1003.9 122.8L1000.6 118.1L1004.7 116.9L1013.1 114.7L1018.9 115.2L1017.6 111.8L1020.7 105.2L1023.0 101.8L1026.8 102.9L1034.4 102.9L1041.2 101.9L1040.9 97.1L1042.8 93.4L1048.9 91.9L1050.8 88.7L1056.5 88.0L1058.8 91.2L1064.1 94.6L1070.9 97.1L1076.3 100.5L1080.1 105.2L1080.4 109.6L1078.3 113.2L1080.8 115.7L1089.2 117.2L1098.4 118.1L1106.0 121.0L1111.3 122.8L1114.4 127.2L1118.9 132.4L1128.8 133.8L1142.5 134.3L1154.7 134.6L1163.1 137.8L1172.3 140.1L1181.4 140.7L1192.1 137.2L1204.2 135.7L1212.1 135.1L1219.0 132.8L1224.3 129.9L1229.6 126.2L1228.1 121.1L1231.2 117.4L1236.5 117.4L1241.8 118.9L1248.7 114.5L1254.8 115.2L1260.9 113.0L1265.4 108.6L1271.5 107.1L1279.1 105.9L1287.5 105.6L1288.3 103.4L1283.7 99.0L1279.1 96.1L1270.0 97.6L1260.1 97.6L1257.0 95.4L1260.9 88.7L1264.7 83.6L1270.0 84.3L1276.1 83.6L1282.2 81.4L1285.2 77.0L1289.0 71.8L1292.8 68.1L1294.4 64.5L1290.6 62.3L1297.4 58.9L1306.6 57.4L1315.7 57.1L1324.8 58.6L1331.7 61.5L1336.3 66.7L1340.1 74.8L1343.1 82.1L1346.9 84.3L1354.5 85.1L1359.9 87.3L1365.2 91.7L1368.2 97.6L1375.1 98.3L1384.2 95.4L1391.9 93.9L1397.2 93.1L1394.9 96.8L1391.9 104.2L1387.3 111.5L1383.5 116.7L1379.7 115.2L1373.6 116.7L1368.2 118.1L1369.0 121.8L1369.8 129.2L1365.2 134.3L1361.4 131.4L1356.8 135.1L1353.0 136.5L1347.7 138.7L1346.9 142.4L1343.9 142.4L1338.5 140.2L1334.0 143.9L1329.4 146.9L1323.3 149.9L1317.2 153.6L1311.1 155.0L1311.9 158.0L1308.1 156.5L1302.0 158.7L1298.2 160.2L1299.7 155.0L1303.5 152.1L1305.0 148.4L1302.0 145.8L1295.1 147.7L1289.8 152.1L1283.7 155.0L1279.1 158.0L1273.0 158.7L1271.5 161.6L1274.6 165.3L1279.9 167.5L1280.7 170.5L1283.7 172.7L1289.8 171.2L1295.9 168.3L1302.0 170.5L1308.8 171.2L1306.6 174.1L1298.9 176.3L1291.3 179.3L1287.5 183.0L1283.7 188.1L1286.0 191.1L1291.3 193.3L1294.4 199.9L1297.4 205.8L1302.0 211.6L1302.0 216.0L1295.9 221.2L1302.0 217.5L1305.0 220.5L1308.8 217.5L1303.5 224.9L1302.0 230.8L1297.4 235.9L1292.1 242.5L1286.8 247.7L1286.6 256.0L1280.5 260.4L1274.4 264.1L1269.9 268.5L1263.8 272.2L1255.4 274.4L1248.5 277.3L1244.7 275.1L1242.4 279.5L1234.8 281.7L1227.2 283.2L1221.1 284.7L1219.6 287.6L1221.9 290.5L1220.4 293.5L1216.6 291.3L1215.0 286.1L1214.3 283.2L1210.5 281.7L1205.9 282.5L1199.0 281.7L1193.7 278.8L1192.5 274.4L1188.4 273.6L1183.8 270.7L1180.0 271.4L1174.7 274.8L1170.9 273.6L1167.8 275.1L1160.2 275.8L1156.8 279.5L1157.1 285.4L1154.1 285.4L1151.1 282.5L1145.7 281.7L1139.6 278.1L1141.6 272.9L1138.1 271.4L1135.8 266.0L1130.5 265.1L1128.2 266.3L1127.4 262.6L1130.5 257.5L1135.1 251.6L1135.8 244.2L1132.8 237.6L1128.2 233.9L1124.4 238.4L1119.1 236.1L1113.0 236.1L1106.9 239.8L1104.5 240.7L1099.9 245.1L1088.2 245.4L1086.2 241.4L1083.1 237.7L1072.5 236.3L1068.7 237.7L1065.6 242.9L1064.1 237.4L1052.7 238.9L1045.1 237.7L1042.0 234.8L1034.4 232.6L1030.6 228.9L1026.8 228.9L1019.2 223.8L1012.3 220.4L1009.3 222.3L1000.9 218.3L993.6 215.4L991.0 210.5L990.2 205.7L995.5 205.1L995.5 201.0L992.0 195.8L993.6 192.9L988.7 189.2L987.2 184.8Z" fill="none" stroke="#05051e" stroke-width="2" stroke-linejoin="round"/>
<path d="M1302.0 211.6L1302.0 216.0L1295.9 221.2L1302.0 217.5L1305.0 220.5L1308.8 217.5L1303.5 224.9L1302.0 230.8L1297.4 235.9L1292.1 242.5L1286.8 247.7L1286.6 256.0L1280.5 260.4L1274.4 264.1L1269.9 268.5L1263.8 272.2L1255.4 274.4L1248.5 277.3L1244.7 275.1L1242.4 279.5L1234.8 281.7L1227.2 283.2L1221.1 284.7L1219.6 287.6L1221.9 290.5L1220.4 293.5L1216.6 291.3L1215.0 286.1L1214.3 283.2L1210.5 281.7L1205.9 282.5L1199.0 281.7L1193.7 278.8" fill="none" stroke="#05051e" stroke-width="2.9" stroke-linejoin="round" stroke-linecap="round"/>
<path d="M1210.5 297.2L1215.0 295.0L1221.1 294.2L1224.2 295.7L1222.6 300.1L1218.8 304.5L1214.3 306.7L1208.9 304.5L1207.7 300.1Z" fill="#e010f0" stroke="#05051e" stroke-width="1.5" stroke-linejoin="round"/>
<path d="M1301.4 258.2L1302.9 260.4L1300.6 269.3L1297.5 276.6L1294.5 281.8L1291.5 277.3L1289.2 271.5L1293.0 264.1L1297.5 259.7Z" fill="#2238ee" stroke="#05051e" stroke-width="1.5" stroke-linejoin="round"/>
</g>
<g id="map2x">
<text class="bi" x="944.6" y="43.5" font-size="24" textLength="460" lengthAdjust="spacingAndGlyphs" fill="#000">Differentials of RCIPR between2019 and 2014</text>
<rect x="934.4" y="249.4" width="94" height="100.8" fill="#fff" stroke="#000" stroke-width="1.3"/>
<path d="M934.3 251.5L941.9 251.2L950.4 252.8L954.6 255.5L959.6 256.2L965.2 255.5L967.3 252.2L974.0 251.8L980.8 250.8L984.2 252.8L989.2 251.2L996.0 250.1" fill="none" stroke="#000" stroke-width="3" stroke-linejoin="round"/>
<path d="M934.4 250.8H1001" stroke="#000" stroke-width="2.6" fill="none"/>
<path d="M966.4 255.2L965.2 259.4L965.9 263.7" fill="none" stroke="#000" stroke-width="2.6"/>
<ellipse cx="963.5" cy="267.5" rx="5" ry="3.4" transform="rotate(-30 963.5 267.5)" fill="#fff" stroke="#000" stroke-width="1.8"/>
<path d="M963.5 283.6l-0.5 -1.4M974.9 280.6l0.3 1.0M1001.1 285.6l0.8 1.6M1006.6 284.8l0.8 1.6M1009.0 271.3l-0.5 1.0M1017.1 258.6l0.8 1.0M1013.7 252.7l0.3 2.2M996.0 260.8l0.3 2.2M966.4 300.5l1.2 -1.4M956.8 323.7l0.8 1.0M1005.3 302.9l0.8 1.6M985.0 305.1l0.8 1.0M984.2 309.3l0.8 2.2M992.6 309.3l0.3 1.6M996.0 305.9l0.8 2.2M975.7 313.5l0.8 2.2M983.3 314.4l-0.5 -1.4M989.2 316.1l0.8 2.2M965.6 317.7l0.8 2.2M972.3 318.6l1.2 -1.4M991.8 319.4l0.3 -1.4M976.5 327.9l1.2 2.2M975.4 337.2l0.8 -1.4M1015.4 254.4l0.3 -1.4M979.1 312.7l-0.5 1.6M986.7 312.7l-0.5 1.6M994.3 311.8l-0.5 -1.4M980.8 316.9l-0.5 1.0" stroke="#000" stroke-width="1.8" fill="none" stroke-linecap="round"/>
<ellipse cx="984.5" cy="283.1" rx="2.6" ry="1.7" transform="rotate(-30 984.5 283.1)" fill="none" stroke="#000" stroke-width="1.4"/>
<path d="M1214.4 322.0L1217.0 328.6M1229.6 317.0L1232.0 320.0M1234.0 321.5L1237.2 324.5M1231.0 324.0L1232.5 326.0M1247.4 323.5L1248.4 325.5M1244.0 326.0L1246.0 327.0M1251.0 323.0L1252.0 325.0M1272.7 328.0L1273.5 329.2M1281.5 324.5L1281.5 330.6M1288.0 303.2L1285.4 309.3M1307.9 264.9L1307.0 269.2M1301.1 281.0L1296.9 288.6M1299.0 277.5L1299.8 278.5" stroke="#000" stroke-width="1.5" fill="none" stroke-linecap="round"/>
<circle cx="1266.3" cy="291.3" r="1.3" fill="#000"/>
<rect x="1285" y="269.3" width="3.2" height="3.2" fill="#fff" stroke="#000" stroke-width="1.2"/>
<defs><linearGradient id="cb" x1="0" y1="0" x2="0" y2="1"><stop offset="0" stop-color="#ff00ff"/><stop offset="0.47" stop-color="#2a14f0"/><stop offset="0.53" stop-color="#2430ee"/><stop offset="1" stop-color="#12eef6"/></linearGradient></defs>
<rect x="1320.7" y="281.3" width="40.1" height="43.2" fill="url(#cb)"/>
<path d="M1360.8 281.9h3.8M1360.8 303h3.8M1360.8 324h3.8" stroke="#222" stroke-width="1" fill="none"/>
<text x="1335" y="264.6" font-size="17" textLength="53.6" lengthAdjust="spacingAndGlyphs" fill="#1a1a1a">PCIPR</text>
<text x="1373.1" y="286.8" font-size="15" textLength="26.5" lengthAdjust="spacingAndGlyphs" fill="#333">0.04</text>
<text x="1374.2" y="330" font-size="15" textLength="31.3" lengthAdjust="spacingAndGlyphs" fill="#333">-0.26</text>
</g>
<!-- arrows -->
<g class="arrow">
<path d="M351.3 40.3H422.4V26.9L451 54.4L422.4 82.1V68.2H351.3Z"/>
<path d="M863.4 196.2H935.1V183.9L963 210.2L935.1 239V224.9H863.4Z"/>
<path d="M534.7 344.3H564.2V414.1H578.8L549.5 443.2L520.3 414.1H534.7Z"/>
<path d="M797.5 346.8L851.3 392.1L860.9 381L863.5 422.4L822.2 425.4L831.9 414.5L778.9 368.5Z"/>
<path d="M897.8 358.7L1155 399.7L1157.4 390.6L1172.8 410.7L1151.3 426.6L1152.9 416.8L894.7 376.1Z"/>
</g>
<!-- faint map border seen through arrows -->
<path d="M408 40.8V67.8M916 196.6V224.5" stroke="#b8561a" stroke-width="1.1" fill="none" opacity="0.5"/>
<!-- charts -->
<g>
<path class="ax" d="M452.2 446.9V654M448 654H695.4"/>
<text class="tk" x="445.2" y="657.9" text-anchor="end">0</text>
<text class="tk" x="445.2" y="606.1" text-anchor="end">2</text>
<text class="tk" x="445.2" y="554.4" text-anchor="end">4</text>
<text class="tk" x="445.2" y="502.6" text-anchor="end">6</text>
<text class="tk" x="445.2" y="450.8" text-anchor="end">8</text>
<text class="tk" x="472.1" y="670.5" text-anchor="middle">2014</text>
<text class="tk" x="512.7" y="670.5" text-anchor="middle">2015</text>
<text class="tk" x="553.2" y="670.5" text-anchor="middle">2016</text>
<text class="tk" x="593.8" y="670.5" text-anchor="middle">2017</text>
<text class="tk" x="634.4" y="670.5" text-anchor="middle">2018</text>
<text class="tk" x="675.0" y="670.5" text-anchor="middle">2019</text>
<path class="ax" d="M447.7 654.0H452.2M449.7 628.1H452.2M447.7 602.2H452.2M449.7 576.3H452.2M447.7 550.5H452.2M449.7 524.6H452.2M447.7 498.7H452.2M449.7 472.8H452.2M447.7 446.9H452.2M472.1 654v3.5M512.7 654v3.5M553.2 654v3.5M593.8 654v3.5M634.4 654v3.5M675.0 654v3.5"/>
<text class="tk" font-size="11.8" transform="translate(423.6 550.9) rotate(-90)" text-anchor="middle" textLength="155.4" lengthAdjust="spacingAndGlyphs" style="font-size:11.4px">planting area of paddy rice (Kha)</text>
<polyline fill="none" stroke="#111" stroke-width="1.2" points="472.1,461.9 512.7,482.0 553.2,498.7 593.8,505.4 634.4,528.0 675.0,542.6"/>
<circle cx="472.1" cy="461.9" r="3.9" fill="#000" stroke="#fff" stroke-width="0.8"/>
<circle cx="512.7" cy="482.0" r="3.9" fill="#000" stroke="#fff" stroke-width="0.8"/>
<circle cx="553.2" cy="498.7" r="3.9" fill="#000" stroke="#fff" stroke-width="0.8"/>
<circle cx="593.8" cy="505.4" r="3.9" fill="#000" stroke="#fff" stroke-width="0.8"/>
<circle cx="634.4" cy="528.0" r="3.9" fill="#000" stroke="#fff" stroke-width="0.8"/>
<circle cx="675.0" cy="542.6" r="3.9" fill="#000" stroke="#fff" stroke-width="0.8"/>
<line x1="578.6" y1="639.6" x2="603.2" y2="639.6" stroke="#111" stroke-width="1.2"/>
<circle cx="590.9" cy="639.6" r="3.7" fill="#000" stroke="#fff" stroke-width="0.7"/>
<text class="tk" x="606.9" y="643.5" textLength="79.4" lengthAdjust="spacingAndGlyphs" style="font-size:11.5px">double paddy rice</text>
<rect x="491.9" y="677.6" width="134.0" height="20.1" fill="#ff00ff"/>
<text class="bi" x="493.1" y="695.0999999999999" font-size="17.8" textLength="133.0" lengthAdjust="spacingAndGlyphs" fill="#8a2a8a" opacity="0.55">Single paddy rice</text>
<text class="bi" x="492.4" y="694.3" font-size="17.8" textLength="133.0" lengthAdjust="spacingAndGlyphs" fill="#1a0f55" stroke="#1a0f55" stroke-width="0.5">Single paddy rice</text>
</g>
<g>
<path class="ax" d="M827.6 442.8V653.2M823.5 653.2H1080.2"/>
<text class="tk" x="820.6" y="657.1" text-anchor="end">0</text>
<text class="tk" x="820.6" y="604.5" text-anchor="end">6</text>
<text class="tk" x="820.6" y="551.9" text-anchor="end">12</text>
<text class="tk" x="820.6" y="499.3" text-anchor="end">18</text>
<text class="tk" x="820.6" y="446.7" text-anchor="end">24</text>
<text class="tk" x="848.3" y="670" text-anchor="middle">2014</text>
<text class="tk" x="890.2" y="670" text-anchor="middle">2015</text>
<text class="tk" x="932.3" y="670" text-anchor="middle">2016</text>
<text class="tk" x="974.5" y="670" text-anchor="middle">2017</text>
<text class="tk" x="1016.4" y="670" text-anchor="middle">2018</text>
<text class="tk" x="1058.8" y="670" text-anchor="middle">2019</text>
<path class="ax" d="M823.1 653.2H827.6M825.1 626.9H827.6M823.1 600.6H827.6M825.1 574.3H827.6M823.1 548.0H827.6M825.1 521.7H827.6M823.1 495.4H827.6M825.1 469.1H827.6M823.1 442.8H827.6M848.3 653.2v3.5M890.2 653.2v3.5M932.3 653.2v3.5M974.5 653.2v3.5M1016.4 653.2v3.5M1058.8 653.2v3.5"/>
<text class="tk" font-size="11.8" transform="translate(792.5 547.4) rotate(-90)" text-anchor="middle" textLength="158" lengthAdjust="spacingAndGlyphs" style="font-size:11.4px">planting area of paddy rice (Kha)</text>
<polyline fill="none" stroke="#111" stroke-width="1.2" points="848.3,465.8 890.2,471.9 932.3,476.2 974.5,505.9 1016.4,497.8 1058.8,487.2"/>
<circle cx="848.3" cy="465.8" r="3.9" fill="#000" stroke="#fff" stroke-width="0.8"/>
<circle cx="890.2" cy="471.9" r="3.9" fill="#000" stroke="#fff" stroke-width="0.8"/>
<circle cx="932.3" cy="476.2" r="3.9" fill="#000" stroke="#fff" stroke-width="0.8"/>
<circle cx="974.5" cy="505.9" r="3.9" fill="#000" stroke="#fff" stroke-width="0.8"/>
<circle cx="1016.4" cy="497.8" r="3.9" fill="#000" stroke="#fff" stroke-width="0.8"/>
<circle cx="1058.8" cy="487.2" r="3.9" fill="#000" stroke="#fff" stroke-width="0.8"/>
<line x1="969.3" y1="630.3" x2="995.4" y2="630.3" stroke="#111" stroke-width="1.2"/>
<circle cx="982.3" cy="630.3" r="3.7" fill="#000" stroke="#fff" stroke-width="0.7"/>
<text class="tk" x="998.6" y="634.2" textLength="78.4" lengthAdjust="spacingAndGlyphs" style="font-size:11.5px">single paddy rice</text>
<rect x="861.1" y="676.2" width="141.2" height="20.4" fill="#ff00ff"/>
<text class="bi" x="862.3" y="693.1999999999999" font-size="17.8" textLength="140.2" lengthAdjust="spacingAndGlyphs" fill="#8a2a8a" opacity="0.55">Double paddy rice</text>
<text class="bi" x="861.6" y="692.4" font-size="17.8" textLength="140.2" lengthAdjust="spacingAndGlyphs" fill="#1a0f55" stroke="#1a0f55" stroke-width="0.5">Double paddy rice</text>
</g>
<g>
<path class="ax" d="M1210.5 441.9V654.5M1206.5 654.5H1451.9"/>
<text class="tk" x="1203.5" y="658.4" text-anchor="end">0</text>
<text class="tk" x="1203.5" y="605.2" text-anchor="end">8</text>
<text class="tk" x="1203.5" y="552.1" text-anchor="end">16</text>
<text class="tk" x="1203.5" y="498.9" text-anchor="end">24</text>
<text class="tk" x="1203.5" y="445.8" text-anchor="end">32</text>
<text class="tk" x="1230.5" y="671.2" text-anchor="middle">2014</text>
<text class="tk" x="1270.9" y="671.2" text-anchor="middle">2015</text>
<text class="tk" x="1311.0" y="671.2" text-anchor="middle">2016</text>
<text class="tk" x="1351.1" y="671.2" text-anchor="middle">2017</text>
<text class="tk" x="1391.5" y="671.2" text-anchor="middle">2018</text>
<text class="tk" x="1431.6" y="671.2" text-anchor="middle">2019</text>
<path class="ax" d="M1206.0 654.5H1210.5M1208.0 627.9H1210.5M1206.0 601.4H1210.5M1208.0 574.8H1210.5M1206.0 548.2H1210.5M1208.0 521.6H1210.5M1206.0 495.0H1210.5M1208.0 468.5H1210.5M1206.0 441.9H1210.5M1230.5 654.5v3.5M1270.9 654.5v3.5M1311.0 654.5v3.5M1351.1 654.5v3.5M1391.5 654.5v3.5M1431.6 654.5v3.5"/>
<text class="tk" font-size="11.8" transform="translate(1176.9 546.7) rotate(-90)" text-anchor="middle" textLength="159.4" lengthAdjust="spacingAndGlyphs" style="font-size:11.4px">planting area of paddy rice (Kha)</text>
<polyline fill="none" stroke="#111" stroke-width="1.2" points="1230.5,463.4 1270.9,473.0 1311.0,480.5 1351.1,504.8 1391.5,504.6 1431.6,500.5"/>
<circle cx="1230.5" cy="463.4" r="3.9" fill="#000" stroke="#fff" stroke-width="0.8"/>
<circle cx="1270.9" cy="473.0" r="3.9" fill="#000" stroke="#fff" stroke-width="0.8"/>
<circle cx="1311.0" cy="480.5" r="3.9" fill="#000" stroke="#fff" stroke-width="0.8"/>
<circle cx="1351.1" cy="504.8" r="3.9" fill="#000" stroke="#fff" stroke-width="0.8"/>
<circle cx="1391.5" cy="504.6" r="3.9" fill="#000" stroke="#fff" stroke-width="0.8"/>
<circle cx="1431.6" cy="500.5" r="3.9" fill="#000" stroke="#fff" stroke-width="0.8"/>
<line x1="1368.1" y1="634" x2="1392.5" y2="634" stroke="#111" stroke-width="1.2"/>
<circle cx="1380.3" cy="634" r="3.7" fill="#000" stroke="#fff" stroke-width="0.7"/>
<text class="tk" x="1395.7" y="637.9" textLength="46.1" lengthAdjust="spacingAndGlyphs" style="font-size:11.5px">paddy rice</text>
<rect x="1300.2" y="678.1" width="79.6" height="20.2" fill="#ff00ff"/>
<text class="bi" x="1301.4" y="695.0" font-size="17.8" textLength="78.6" lengthAdjust="spacingAndGlyphs" fill="#8a2a8a" opacity="0.55">paddy rice</text>
<text class="bi" x="1300.7" y="694.2" font-size="17.8" textLength="78.6" lengthAdjust="spacingAndGlyphs" fill="#1a0f55" stroke="#1a0f55" stroke-width="0.5">paddy rice</text>
</g>
</svg>
</body>
</html>
